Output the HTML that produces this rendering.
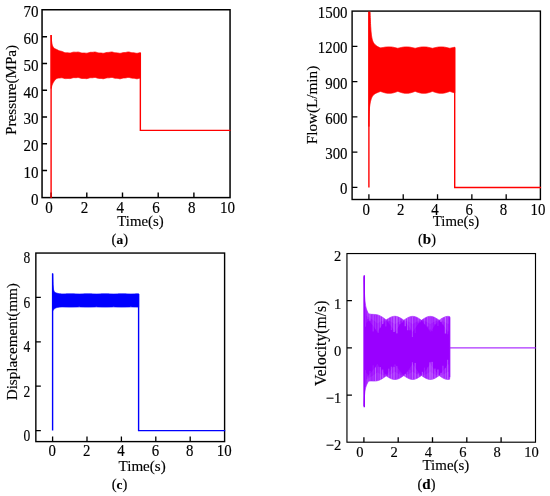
<!DOCTYPE html>
<html><head><meta charset="utf-8"><title>Figure</title>
<style>
html,body{margin:0;padding:0;background:#fff;}
svg{display:block;filter:blur(0.35px);}
text{font-family:"Liberation Serif", "Times New Roman", serif;font-size:15px;fill:#000;stroke:#000;stroke-width:0.15px;}
</style></head><body>
<svg width="550" height="496" viewBox="0 0 550 496">
<rect width="550" height="496" fill="#fff"/>
<rect x="42.05" y="9.75" width="188" height="187.85" fill="none" stroke="#000" stroke-width="1.5"/>
<path d="M51.1,197.6v-5M86.8,197.6v-5M122.5,197.6v-5M158.2,197.6v-5M193.9,197.6v-5M42.05,170.54h5M42.05,143.78h5M42.05,117.02h5M42.05,90.26h5M42.05,63.5h5M42.05,36.74h5" fill="none" stroke="#000" stroke-width="1.4"/>
<clipPath id="clipa"><rect x="42.05" y="10.5" width="188.75" height="187.85"/></clipPath>
<g clip-path="url(#clipa)">
<polygon fill="#ff0000" stroke="#ff0000" stroke-width="0.8" stroke-linejoin="round" points="51.1,35.12 51.19,36.61 51.28,37.9 51.37,39.02 51.46,39.99 51.55,40.84 51.64,41.58 51.72,42.22 51.81,42.8 51.9,43.3 51.99,43.75 52.08,44.15 52.17,44.51 52.26,44.84 52.35,45.14 52.44,45.41 52.53,45.65 52.62,45.88 52.71,46.09 52.8,46.28 52.89,46.46 52.97,46.63 53.06,46.79 53.15,46.94 53.24,47.08 53.33,47.21 53.42,47.34 53.51,47.46 53.6,47.57 53.69,47.67 53.78,47.77 53.87,47.87 53.96,47.96 54.05,48.04 54.13,48.12 54.22,48.2 54.31,48.27 54.4,48.34 54.49,48.41 54.58,48.47 54.67,48.53 54.76,48.59 54.85,48.64 54.94,48.69 55.03,48.74 55.12,48.79 55.21,48.83 55.29,48.88 55.38,48.92 55.47,48.96 55.56,49 55.65,49.04 55.74,49.08 55.83,49.12 55.92,49.16 56.01,49.2 56.1,49.23 56.19,49.27 56.28,49.31 56.37,49.35 56.45,49.39 56.54,49.43 56.63,49.47 56.72,49.51 56.81,49.55 56.9,49.6 56.99,49.64 57.08,49.68 57.17,49.73 57.26,49.77 57.35,49.82 57.44,49.87 57.53,49.91 57.62,49.96 57.7,50.01 57.79,50.05 57.88,50.1 57.97,50.15 58.06,50.2 58.15,50.24 58.24,50.29 58.33,50.34 58.42,50.38 58.51,50.43 58.6,50.47 58.69,50.51 58.78,50.55 58.86,50.59 58.95,50.63 59.04,50.67 59.13,50.71 59.22,50.74 59.31,50.78 59.4,50.81 59.49,50.84 59.58,50.87 59.67,50.9 59.76,50.92 59.85,50.95 59.94,50.97 60.03,51 60.11,51.02 60.2,51.04 60.29,51.06 60.38,51.08 60.47,51.1 60.56,51.12 60.65,51.14 60.74,51.16 60.83,51.17 60.92,51.19 61.01,51.21 61.1,51.23 61.19,51.25 61.27,51.27 61.36,51.29 61.45,51.31 61.54,51.34 61.63,51.36 61.72,51.38 61.81,51.41 62.05,51.48 62.29,51.57 62.52,51.66 62.76,51.76 63,51.87 63.24,51.98 63.48,52.1 63.71,52.21 63.95,52.32 64.19,52.42 64.43,52.51 64.67,52.59 64.9,52.66 65.14,52.72 65.38,52.76 65.62,52.79 65.86,52.81 66.09,52.82 66.33,52.83 66.57,52.83 66.81,52.83 67.05,52.82 67.28,52.82 67.52,52.83 67.76,52.84 68,52.85 68.24,52.87 68.47,52.9 68.71,52.92 68.95,52.95 69.19,52.97 69.43,52.98 69.66,52.99 69.9,52.99 70.14,52.98 70.38,52.96 70.62,52.93 70.85,52.88 71.09,52.82 71.33,52.76 71.57,52.68 71.81,52.61 72.04,52.53 72.28,52.45 72.52,52.38 72.76,52.32 73,52.27 73.23,52.22 73.47,52.19 73.71,52.17 73.95,52.16 74.19,52.16 74.42,52.16 74.66,52.18 74.9,52.19 75.14,52.2 75.38,52.22 75.61,52.22 75.85,52.23 76.09,52.23 76.33,52.22 76.57,52.21 76.8,52.19 77.04,52.17 77.28,52.15 77.52,52.14 77.76,52.12 77.99,52.12 78.23,52.13 78.47,52.14 78.71,52.17 78.95,52.21 79.18,52.26 79.42,52.33 79.66,52.4 79.9,52.48 80.14,52.56 80.37,52.64 80.61,52.72 80.85,52.8 81.09,52.87 81.33,52.92 81.56,52.97 81.8,53.01 82.04,53.04 82.28,53.05 82.52,53.06 82.75,53.06 82.99,53.05 83.23,53.05 83.47,53.04 83.71,53.04 83.94,53.04 84.18,53.04 84.42,53.05 84.66,53.07 84.9,53.09 85.13,53.11 85.37,53.14 85.61,53.16 85.85,53.19 86.09,53.2 86.32,53.21 86.56,53.21 86.8,53.2 87.04,53.17 87.28,53.14 87.51,53.09 87.75,53.03 87.99,52.96 88.23,52.88 88.47,52.8 88.7,52.72 88.94,52.64 89.18,52.57 89.42,52.5 89.66,52.44 89.89,52.4 90.13,52.36 90.37,52.33 90.61,52.32 90.85,52.31 91.08,52.3 91.32,52.31 91.56,52.31 91.8,52.31 92.04,52.31 92.27,52.31 92.51,52.3 92.75,52.28 92.99,52.26 93.23,52.23 93.46,52.2 93.7,52.17 93.94,52.14 94.18,52.11 94.42,52.09 94.65,52.08 94.89,52.08 95.13,52.09 95.37,52.11 95.61,52.14 95.84,52.19 96.08,52.25 96.32,52.32 96.56,52.39 96.8,52.47 97.03,52.55 97.27,52.63 97.51,52.7 97.75,52.76 97.99,52.82 98.22,52.87 98.46,52.91 98.7,52.93 98.94,52.95 99.18,52.96 99.41,52.97 99.65,52.97 99.89,52.97 100.13,52.97 100.37,52.98 100.6,52.99 100.84,53 101.08,53.03 101.32,53.05 101.56,53.09 101.79,53.12 102.03,53.16 102.27,53.19 102.51,53.23 102.75,53.25 102.98,53.27 103.22,53.27 103.46,53.27 103.7,53.25 103.94,53.22 104.17,53.17 104.41,53.12 104.65,53.05 104.89,52.98 105.13,52.9 105.36,52.83 105.6,52.75 105.84,52.68 106.08,52.62 106.32,52.56 106.55,52.51 106.79,52.48 107.03,52.45 107.27,52.43 107.51,52.42 107.74,52.41 107.98,52.41 108.22,52.4 108.46,52.4 108.7,52.39 108.93,52.37 109.17,52.35 109.41,52.32 109.65,52.29 109.89,52.25 110.12,52.21 110.36,52.17 110.6,52.13 110.84,52.09 111.08,52.06 111.31,52.04 111.55,52.03 111.79,52.03 112.03,52.05 112.27,52.08 112.5,52.12 112.74,52.17 112.98,52.23 113.22,52.3 113.46,52.38 113.69,52.45 113.93,52.52 114.17,52.59 114.41,52.65 114.65,52.71 114.88,52.75 115.12,52.79 115.36,52.81 115.6,52.83 115.84,52.85 116.07,52.85 116.31,52.86 116.55,52.87 116.79,52.88 117.03,52.89 117.26,52.91 117.5,52.94 117.74,52.97 117.98,53.01 118.22,53.05 118.45,53.1 118.69,53.15 118.93,53.2 119.17,53.24 119.41,53.27 119.64,53.3 119.88,53.31 120.12,53.31 120.36,53.3 120.6,53.27 120.83,53.24 121.07,53.19 121.31,53.13 121.55,53.06 121.79,52.99 122.02,52.92 122.26,52.85 122.5,52.79 122.74,52.73 122.98,52.67 123.21,52.63 123.45,52.6 123.69,52.57 123.93,52.55 124.17,52.54 124.4,52.53 124.64,52.52 124.88,52.51 125.12,52.5 125.36,52.48 125.59,52.46 125.83,52.43 126.07,52.39 126.31,52.34 126.55,52.29 126.78,52.24 127.02,52.19 127.26,52.14 127.5,52.09 127.74,52.05 127.97,52.02 128.21,52 128.45,52 128.69,52.01 128.93,52.03 129.16,52.07 129.4,52.11 129.64,52.17 129.88,52.23 130.12,52.3 130.35,52.36 130.59,52.43 130.83,52.49 131.07,52.55 131.31,52.59 131.54,52.63 131.78,52.67 132.02,52.69 132.26,52.71 132.5,52.72 132.73,52.73 132.97,52.74 133.21,52.75 133.45,52.77 133.69,52.79 133.92,52.82 134.16,52.85 134.4,52.9 134.64,52.95 134.88,53 135.11,53.06 135.35,53.12 135.59,53.17 135.83,53.22 136.07,53.27 136.3,53.3 136.54,53.32 136.78,53.33 137.02,53.33 137.26,53.31 137.49,53.28 137.73,53.23 137.97,53.18 138.21,53.12 138.45,53.06 138.68,53 138.92,52.94 139.16,52.88 139.4,52.83 139.64,52.78 139.87,52.75 140.11,52.72 140.35,52.69 140.35,78.12 140.11,78.14 139.87,78.17 139.64,78.2 139.4,78.25 139.16,78.3 138.92,78.36 138.68,78.42 138.45,78.48 138.21,78.55 137.97,78.6 137.73,78.66 137.49,78.7 137.26,78.73 137.02,78.75 136.78,78.75 136.54,78.74 136.3,78.72 136.07,78.69 135.83,78.64 135.59,78.59 135.35,78.54 135.11,78.48 134.88,78.42 134.64,78.37 134.4,78.32 134.16,78.28 133.92,78.24 133.69,78.21 133.45,78.19 133.21,78.18 132.97,78.16 132.73,78.15 132.5,78.14 132.26,78.13 132.02,78.11 131.78,78.09 131.54,78.06 131.31,78.02 131.07,77.97 130.83,77.91 130.59,77.85 130.35,77.79 130.12,77.72 129.88,77.65 129.64,77.59 129.4,77.53 129.16,77.49 128.93,77.45 128.69,77.43 128.45,77.42 128.21,77.43 127.97,77.44 127.74,77.47 127.5,77.51 127.26,77.56 127.02,77.61 126.78,77.66 126.55,77.72 126.31,77.77 126.07,77.81 125.83,77.85 125.59,77.88 125.36,77.9 125.12,77.92 124.88,77.93 124.64,77.94 124.4,77.95 124.17,77.96 123.93,77.98 123.69,77.99 123.45,78.02 123.21,78.05 122.98,78.1 122.74,78.15 122.5,78.21 122.26,78.27 122.02,78.34 121.79,78.41 121.55,78.48 121.31,78.55 121.07,78.61 120.83,78.66 120.6,78.7 120.36,78.72 120.12,78.73 119.88,78.73 119.64,78.72 119.41,78.69 119.17,78.66 118.93,78.62 118.69,78.57 118.45,78.52 118.22,78.48 117.98,78.43 117.74,78.39 117.5,78.36 117.26,78.33 117.03,78.31 116.79,78.3 116.55,78.29 116.31,78.28 116.07,78.28 115.84,78.27 115.6,78.25 115.36,78.24 115.12,78.21 114.88,78.17 114.65,78.13 114.41,78.07 114.17,78.01 113.93,77.94 113.69,77.87 113.46,77.8 113.22,77.72 112.98,77.66 112.74,77.59 112.5,77.54 112.27,77.5 112.03,77.47 111.79,77.45 111.55,77.45 111.31,77.46 111.08,77.48 110.84,77.51 110.6,77.55 110.36,77.59 110.12,77.63 109.89,77.67 109.65,77.71 109.41,77.75 109.17,77.77 108.93,77.79 108.7,77.81 108.46,77.82 108.22,77.83 107.98,77.83 107.74,77.83 107.51,77.84 107.27,77.85 107.03,77.87 106.79,77.9 106.55,77.94 106.32,77.98 106.08,78.04 105.84,78.1 105.6,78.17 105.36,78.25 105.13,78.33 104.89,78.4 104.65,78.47 104.41,78.54 104.17,78.59 103.94,78.64 103.7,78.67 103.46,78.69 103.22,78.7 102.98,78.69 102.75,78.67 102.51,78.65 102.27,78.62 102.03,78.58 101.79,78.54 101.56,78.51 101.32,78.48 101.08,78.45 100.84,78.43 100.6,78.41 100.37,78.4 100.13,78.39 99.89,78.39 99.65,78.39 99.41,78.39 99.18,78.38 98.94,78.37 98.7,78.36 98.46,78.33 98.22,78.29 97.99,78.24 97.75,78.19 97.51,78.12 97.27,78.05 97.03,77.97 96.8,77.89 96.56,77.81 96.32,77.74 96.08,77.67 95.84,77.61 95.61,77.57 95.37,77.53 95.13,77.51 94.89,77.5 94.65,77.5 94.42,77.51 94.18,77.53 93.94,77.56 93.7,77.59 93.46,77.62 93.23,77.65 92.99,77.68 92.75,77.7 92.51,77.72 92.27,77.73 92.04,77.73 91.8,77.73 91.56,77.73 91.32,77.73 91.08,77.73 90.85,77.73 90.61,77.74 90.37,77.76 90.13,77.78 89.89,77.82 89.66,77.87 89.42,77.93 89.18,77.99 88.94,78.07 88.7,78.15 88.47,78.23 88.23,78.31 87.99,78.38 87.75,78.45 87.51,78.51 87.28,78.56 87.04,78.6 86.8,78.62 86.56,78.64 86.32,78.64 86.09,78.63 85.85,78.61 85.61,78.59 85.37,78.57 85.13,78.54 84.9,78.51 84.66,78.49 84.42,78.48 84.18,78.47 83.94,78.46 83.71,78.47 83.47,78.47 83.23,78.48 82.99,78.48 82.75,78.49 82.52,78.49 82.28,78.48 82.04,78.47 81.8,78.44 81.56,78.4 81.33,78.36 81.09,78.3 80.85,78.23 80.61,78.16 80.37,78.08 80.14,78 79.9,77.91 79.66,77.84 79.42,77.77 79.18,77.7 78.95,77.65 78.71,77.61 78.47,77.59 78.23,77.57 77.99,77.57 77.76,77.57 77.52,77.58 77.28,77.6 77.04,77.62 76.8,77.64 76.57,77.66 76.33,77.67 76.09,77.68 75.85,77.69 75.61,77.69 75.38,77.68 75.14,77.67 74.9,77.66 74.66,77.65 74.42,77.64 74.19,77.63 73.95,77.64 73.71,77.65 73.47,77.68 73.23,77.71 73,77.76 72.76,77.82 72.52,77.88 72.28,77.96 72.04,78.04 71.81,78.12 71.57,78.2 71.33,78.28 71.09,78.35 70.85,78.42 70.62,78.47 70.38,78.51 70.14,78.54 69.9,78.56 69.66,78.57 69.43,78.57 69.19,78.56 68.95,78.55 68.71,78.53 68.47,78.52 68.24,78.5 68,78.5 67.76,78.49 67.52,78.5 67.28,78.51 67.05,78.52 66.81,78.54 66.57,78.56 66.33,78.58 66.09,78.59 65.86,78.6 65.62,78.6 65.38,78.59 65.14,78.57 64.9,78.54 64.67,78.5 64.43,78.44 64.19,78.38 63.95,78.31 63.71,78.24 63.48,78.16 63.24,78.08 63,78.01 62.76,77.95 62.52,77.89 62.29,77.85 62.05,77.82 61.81,77.8 61.72,77.79 61.63,77.79 61.54,77.79 61.45,77.79 61.36,77.79 61.27,77.79 61.19,77.8 61.1,77.8 61.01,77.81 60.92,77.82 60.83,77.83 60.74,77.84 60.65,77.85 60.56,77.86 60.47,77.87 60.38,77.88 60.29,77.89 60.2,77.9 60.11,77.92 60.03,77.93 59.94,77.94 59.85,77.95 59.76,77.96 59.67,77.97 59.58,77.98 59.49,77.99 59.4,78 59.31,78.01 59.22,78.02 59.13,78.03 59.04,78.03 58.95,78.04 58.86,78.05 58.78,78.06 58.69,78.07 58.6,78.07 58.51,78.08 58.42,78.09 58.33,78.1 58.24,78.11 58.15,78.12 58.06,78.13 57.97,78.15 57.88,78.16 57.79,78.18 57.7,78.2 57.62,78.22 57.53,78.24 57.44,78.26 57.35,78.29 57.26,78.32 57.17,78.35 57.08,78.38 56.99,78.42 56.9,78.46 56.81,78.5 56.72,78.55 56.63,78.6 56.54,78.65 56.45,78.7 56.37,78.76 56.28,78.82 56.19,78.89 56.1,78.95 56.01,79.02 55.92,79.1 55.83,79.18 55.74,79.26 55.65,79.34 55.56,79.42 55.47,79.51 55.38,79.6 55.29,79.7 55.21,79.79 55.12,79.89 55.03,80 54.94,80.1 54.85,80.21 54.76,80.32 54.67,80.43 54.58,80.54 54.49,80.66 54.4,80.77 54.31,80.89 54.22,81.02 54.13,81.14 54.05,81.27 53.96,81.4 53.87,81.53 53.78,81.67 53.69,81.81 53.6,81.95 53.51,82.09 53.42,82.24 53.33,82.4 53.24,82.55 53.15,82.71 53.06,82.88 52.97,83.05 52.89,83.23 52.8,83.41 52.71,83.6 52.62,83.79 52.53,83.99 52.44,84.2 52.35,84.42 52.26,84.64 52.17,84.88 52.08,85.12 51.99,85.37 51.9,85.63 51.81,85.9 51.72,86.18 51.64,86.48 51.55,86.78 51.46,87.1 51.37,87.43 51.28,87.77 51.19,88.13 51.1,88.5"/>
<path d="M51.1,198.3 L51.1,35.12" fill="none" stroke="#ff0000" stroke-width="1.4"/>
<path d="M140.35,52.8 L140.35,130.4 L230.6,130.4" fill="none" stroke="#ff0000" stroke-width="1.4"/>
</g>
<text transform="translate(48.9,212.9) scale(0.94,1)" text-anchor="middle" style="font-size:16px">0</text>
<text transform="translate(84.6,212.9) scale(0.94,1)" text-anchor="middle" style="font-size:16px">2</text>
<text transform="translate(120.3,212.9) scale(0.94,1)" text-anchor="middle" style="font-size:16px">4</text>
<text transform="translate(156,212.9) scale(0.94,1)" text-anchor="middle" style="font-size:16px">6</text>
<text transform="translate(191.7,212.9) scale(0.94,1)" text-anchor="middle" style="font-size:16px">8</text>
<text transform="translate(227.4,212.9) scale(0.94,1)" text-anchor="middle" style="font-size:16px">10</text>
<text transform="translate(38.6,204.55) scale(0.94,1)" text-anchor="end" style="font-size:16px">0</text>
<text transform="translate(38.6,177.79) scale(0.94,1)" text-anchor="end" style="font-size:16px">10</text>
<text transform="translate(38.6,151.03) scale(0.94,1)" text-anchor="end" style="font-size:16px">20</text>
<text transform="translate(38.6,124.27) scale(0.94,1)" text-anchor="end" style="font-size:16px">30</text>
<text transform="translate(38.6,97.51) scale(0.94,1)" text-anchor="end" style="font-size:16px">40</text>
<text transform="translate(38.6,70.75) scale(0.94,1)" text-anchor="end" style="font-size:16px">50</text>
<text transform="translate(38.6,43.99) scale(0.94,1)" text-anchor="end" style="font-size:16px">60</text>
<text transform="translate(38.6,17.23) scale(0.94,1)" text-anchor="end" style="font-size:16px">70</text>
<text transform="translate(140.5,226.4) scale(0.95,1)" text-anchor="middle" style="font-size:15.6px">Time(s)</text>
<text transform="translate(15.7,89.9) rotate(-90)" text-anchor="middle" style="font-size:15.15px">Pressure(MPa)</text>
<text x="119.8" y="243.5" text-anchor="middle" style="font-size:14.6px">(<tspan style="font-weight:bold;font-size:13.3px">a</tspan>)</text>
<rect x="352.1" y="11.1" width="188.3" height="188.4" fill="none" stroke="#000" stroke-width="1.4"/>
<path d="M368.9,199.5v-5.3M403.22,199.5v-5.3M437.54,199.5v-5.3M471.86,199.5v-5.3M506.18,199.5v-5.3M352.1,187.45h5.3M352.1,152.2h5.3M352.1,116.95h5.3M352.1,81.7h5.3M352.1,46.45h5.3" fill="none" stroke="#000" stroke-width="1.3"/>
<clipPath id="clipb"><rect x="352.1" y="11.8" width="189" height="188.4"/></clipPath>
<g clip-path="url(#clipb)">
<polygon fill="#ff0000" stroke="#ff0000" stroke-width="0.8" stroke-linejoin="round" points="368.9,-75.56 368.99,-64.08 369.07,-53.76 369.16,-44.5 369.24,-36.17 369.33,-28.69 369.41,-21.96 369.5,-15.9 369.59,-10.45 369.67,-5.54 369.76,-1.11 369.84,2.87 369.93,6.47 370.02,9.72 370.1,12.65 370.19,15.3 370.27,17.7 370.36,19.87 370.44,21.84 370.53,23.62 370.62,25.24 370.7,26.71 370.79,28.05 370.87,29.27 370.96,30.38 371.04,31.4 371.13,32.32 371.22,33.17 371.3,33.95 371.39,34.67 371.47,35.33 371.56,35.93 371.65,36.49 371.73,37.01 371.82,37.49 371.9,37.94 371.99,38.35 372.07,38.73 372.16,39.09 372.25,39.43 372.33,39.74 372.42,40.04 372.5,40.31 372.59,40.57 372.68,40.82 372.76,41.05 372.85,41.27 372.93,41.48 373.02,41.68 373.1,41.87 373.19,42.05 373.28,42.22 373.36,42.38 373.45,42.54 373.53,42.69 373.62,42.84 373.7,42.97 373.79,43.11 373.88,43.24 373.96,43.36 374.05,43.48 374.13,43.6 374.22,43.71 374.31,43.82 374.39,43.93 374.48,44.03 374.56,44.13 374.65,44.23 374.73,44.32 374.82,44.41 374.91,44.5 374.99,44.59 375.08,44.68 375.16,44.76 375.25,44.84 375.33,44.92 375.42,45 375.51,45.07 375.59,45.15 375.68,45.22 375.76,45.29 375.85,45.36 375.94,45.43 376.02,45.5 376.11,45.56 376.19,45.63 376.28,45.69 376.36,45.75 376.45,45.81 376.54,45.87 376.62,45.93 376.71,45.99 376.79,46.05 376.88,46.1 376.97,46.16 377.05,46.21 377.14,46.27 377.22,46.32 377.31,46.37 377.39,46.42 377.48,46.47 377.57,46.52 377.65,46.57 377.74,46.62 377.82,46.67 377.91,46.72 377.99,46.76 378.08,46.81 378.17,46.85 378.25,46.9 378.34,46.94 378.42,46.99 378.51,47.03 378.6,47.07 378.68,47.11 378.77,47.16 378.85,47.2 378.94,47.24 379.02,47.28 379.11,47.32 379.2,47.36 379.42,47.46 379.65,47.56 379.88,47.66 380.11,47.76 380.34,47.85 380.57,47.89 380.8,47.87 381.03,47.83 381.26,47.8 381.48,47.77 381.71,47.73 381.94,47.7 382.17,47.66 382.4,47.62 382.63,47.58 382.86,47.54 383.09,47.51 383.31,47.47 383.54,47.43 383.77,47.39 384,47.35 384.23,47.32 384.46,47.28 384.69,47.25 384.92,47.21 385.14,47.18 385.37,47.15 385.6,47.12 385.83,47.09 386.06,47.07 386.29,47.04 386.52,47.02 386.75,47 386.98,46.98 387.2,46.96 387.43,46.94 387.66,46.93 387.89,46.92 388.12,46.91 388.35,46.9 388.58,46.9 388.81,46.89 389.03,46.89 389.26,46.9 389.49,46.9 389.72,46.91 389.95,46.91 390.18,46.93 390.41,46.94 390.64,46.96 390.86,46.97 391.09,46.99 391.32,47.02 391.55,47.04 391.78,47.07 392.01,47.1 392.24,47.13 392.47,47.16 392.7,47.19 392.92,47.23 393.15,47.27 393.38,47.31 393.61,47.35 393.84,47.39 394.07,47.44 394.3,47.49 394.53,47.53 394.75,47.58 394.98,47.63 395.21,47.69 395.44,47.74 395.67,47.79 395.9,47.85 396.13,47.9 396.36,47.96 396.58,48.02 396.81,48.07 397.04,48.13 397.27,48.19 397.5,48.25 397.73,48.31 397.96,48.29 398.19,48.23 398.42,48.18 398.64,48.12 398.87,48.06 399.1,48 399.33,47.95 399.56,47.89 399.79,47.84 400.02,47.78 400.25,47.73 400.47,47.68 400.7,47.62 400.93,47.57 401.16,47.53 401.39,47.48 401.62,47.43 401.85,47.39 402.08,47.35 402.3,47.3 402.53,47.27 402.76,47.23 402.99,47.19 403.22,47.16 403.45,47.13 403.68,47.1 403.91,47.07 404.14,47.05 404.36,47.02 404.59,47 404.82,46.98 405.05,46.97 405.28,46.95 405.51,46.94 405.74,46.93 405.97,46.93 406.19,46.92 406.42,46.92 406.65,46.92 406.88,46.92 407.11,46.93 407.34,46.94 407.57,46.95 407.8,46.96 408.02,46.97 408.25,46.99 408.48,47.01 408.71,47.03 408.94,47.06 409.17,47.08 409.4,47.11 409.63,47.14 409.86,47.18 410.08,47.21 410.31,47.25 410.54,47.29 410.77,47.33 411,47.37 411.23,47.41 411.46,47.46 411.69,47.5 411.91,47.55 412.14,47.6 412.37,47.65 412.6,47.7 412.83,47.76 413.06,47.81 413.29,47.86 413.52,47.92 413.74,47.98 413.97,48.03 414.2,48.09 414.43,48.15 414.66,48.21 414.89,48.26 415.12,48.32 415.35,48.28 415.58,48.22 415.8,48.16 416.03,48.1 416.26,48.05 416.49,47.99 416.72,47.93 416.95,47.88 417.18,47.82 417.41,47.77 417.63,47.72 417.86,47.66 418.09,47.61 418.32,47.56 418.55,47.51 418.78,47.47 419.01,47.42 419.24,47.38 419.46,47.34 419.69,47.29 419.92,47.26 420.15,47.22 420.38,47.18 420.61,47.15 420.84,47.12 421.07,47.09 421.3,47.06 421.52,47.04 421.75,47.02 421.98,47 422.21,46.98 422.44,46.96 422.67,46.95 422.9,46.94 423.13,46.93 423.35,46.92 423.58,46.92 423.81,46.92 424.04,46.92 424.27,46.92 424.5,46.93 424.73,46.94 424.96,46.95 425.18,46.96 425.41,46.98 425.64,47 425.87,47.02 426.1,47.04 426.33,47.06 426.56,47.09 426.79,47.12 427.02,47.15 427.24,47.18 427.47,47.22 427.7,47.26 427.93,47.29 428.16,47.34 428.39,47.38 428.62,47.42 428.85,47.47 429.07,47.51 429.3,47.56 429.53,47.61 429.76,47.66 429.99,47.72 430.22,47.77 430.45,47.82 430.68,47.88 430.9,47.93 431.13,47.99 431.36,48.05 431.59,48.1 431.82,48.16 432.05,48.22 432.28,48.28 432.51,48.32 432.74,48.26 432.96,48.21 433.19,48.15 433.42,48.09 433.65,48.03 433.88,47.98 434.11,47.92 434.34,47.86 434.57,47.81 434.79,47.76 435.02,47.7 435.25,47.65 435.48,47.6 435.71,47.55 435.94,47.5 436.17,47.46 436.4,47.41 436.62,47.37 436.85,47.33 437.08,47.29 437.31,47.25 437.54,47.21 437.77,47.18 438,47.14 438.23,47.11 438.46,47.08 438.68,47.06 438.91,47.03 439.14,47.01 439.37,46.99 439.6,46.97 439.83,46.96 440.06,46.95 440.29,46.94 440.51,46.93 440.74,46.92 440.97,46.92 441.2,46.92 441.43,46.92 441.66,46.93 441.89,46.93 442.12,46.94 442.34,46.95 442.57,46.97 442.8,46.98 443.03,47 443.26,47.02 443.49,47.05 443.72,47.07 443.95,47.1 444.18,47.13 444.4,47.16 444.63,47.19 444.86,47.23 445.09,47.27 445.32,47.3 445.55,47.35 445.78,47.39 446.01,47.43 446.23,47.48 446.46,47.53 446.69,47.57 446.92,47.62 447.15,47.68 447.38,47.73 447.61,47.78 447.84,47.84 448.06,47.89 448.29,47.95 448.52,48 448.75,48.06 448.98,48.12 449.21,48.18 449.44,48.24 449.67,48.29 449.9,48.31 450.12,48.25 450.35,48.19 450.58,48.13 450.81,48.08 451.04,48.02 451.27,47.96 451.5,47.91 451.73,47.85 451.95,47.8 452.18,47.74 452.41,47.69 452.64,47.64 452.87,47.59 453.1,47.54 453.33,47.49 453.56,47.44 453.78,47.4 454.01,47.36 454.24,47.32 454.47,47.28 454.7,47.24 454.7,92.88 454.47,92.83 454.24,92.77 454.01,92.71 453.78,92.65 453.56,92.59 453.33,92.52 453.1,92.46 452.87,92.39 452.64,92.32 452.41,92.24 452.18,92.17 451.95,92.09 451.73,92.01 451.5,91.94 451.27,91.86 451.04,91.78 450.81,91.7 450.58,91.61 450.35,91.53 450.12,91.45 449.9,91.37 449.67,91.39 449.44,91.47 449.21,91.55 448.98,91.63 448.75,91.72 448.52,91.8 448.29,91.88 448.06,91.96 447.84,92.03 447.61,92.11 447.38,92.19 447.15,92.26 446.92,92.33 446.69,92.4 446.46,92.47 446.23,92.54 446.01,92.61 445.78,92.67 445.55,92.73 445.32,92.79 445.09,92.84 444.86,92.9 444.63,92.95 444.4,92.99 444.18,93.04 443.95,93.08 443.72,93.12 443.49,93.15 443.26,93.19 443.03,93.22 442.8,93.24 442.57,93.27 442.34,93.29 442.12,93.3 441.89,93.31 441.66,93.32 441.43,93.33 441.2,93.33 440.97,93.33 440.74,93.33 440.51,93.32 440.29,93.31 440.06,93.29 439.83,93.28 439.6,93.25 439.37,93.23 439.14,93.2 438.91,93.17 438.68,93.14 438.46,93.1 438.23,93.06 438,93.02 437.77,92.97 437.54,92.92 437.31,92.87 437.08,92.82 436.85,92.76 436.62,92.7 436.4,92.64 436.17,92.57 435.94,92.51 435.71,92.44 435.48,92.37 435.25,92.3 435.02,92.22 434.79,92.15 434.57,92.07 434.34,92 434.11,91.92 433.88,91.84 433.65,91.76 433.42,91.68 433.19,91.59 432.96,91.51 432.74,91.43 432.51,91.35 432.28,91.41 432.05,91.49 431.82,91.57 431.59,91.65 431.36,91.74 431.13,91.82 430.9,91.9 430.68,91.98 430.45,92.05 430.22,92.13 429.99,92.21 429.76,92.28 429.53,92.35 429.3,92.42 429.07,92.49 428.85,92.56 428.62,92.62 428.39,92.68 428.16,92.74 427.93,92.8 427.7,92.86 427.47,92.91 427.24,92.96 427.02,93.01 426.79,93.05 426.56,93.09 426.33,93.13 426.1,93.16 425.87,93.19 425.64,93.22 425.41,93.25 425.18,93.27 424.96,93.29 424.73,93.31 424.5,93.32 424.27,93.33 424.04,93.33 423.81,93.33 423.58,93.33 423.35,93.33 423.13,93.32 422.9,93.31 422.67,93.29 422.44,93.27 422.21,93.25 421.98,93.22 421.75,93.19 421.52,93.16 421.3,93.13 421.07,93.09 420.84,93.05 420.61,93.01 420.38,92.96 420.15,92.91 419.92,92.86 419.69,92.8 419.46,92.74 419.24,92.68 419.01,92.62 418.78,92.56 418.55,92.49 418.32,92.42 418.09,92.35 417.86,92.28 417.63,92.21 417.41,92.13 417.18,92.05 416.95,91.98 416.72,91.9 416.49,91.82 416.26,91.74 416.03,91.65 415.8,91.57 415.58,91.49 415.35,91.41 415.12,91.35 414.89,91.43 414.66,91.51 414.43,91.59 414.2,91.68 413.97,91.76 413.74,91.84 413.52,91.92 413.29,92 413.06,92.07 412.83,92.15 412.6,92.22 412.37,92.3 412.14,92.37 411.91,92.44 411.69,92.51 411.46,92.57 411.23,92.64 411,92.7 410.77,92.76 410.54,92.82 410.31,92.87 410.08,92.92 409.86,92.97 409.63,93.02 409.4,93.06 409.17,93.1 408.94,93.14 408.71,93.17 408.48,93.2 408.25,93.23 408.02,93.25 407.8,93.28 407.57,93.29 407.34,93.31 407.11,93.32 406.88,93.33 406.65,93.33 406.42,93.33 406.19,93.33 405.97,93.32 405.74,93.31 405.51,93.3 405.28,93.29 405.05,93.27 404.82,93.24 404.59,93.22 404.36,93.19 404.14,93.15 403.91,93.12 403.68,93.08 403.45,93.04 403.22,92.99 402.99,92.95 402.76,92.9 402.53,92.84 402.3,92.79 402.08,92.73 401.85,92.67 401.62,92.61 401.39,92.54 401.16,92.47 400.93,92.4 400.7,92.33 400.47,92.26 400.25,92.19 400.02,92.11 399.79,92.03 399.56,91.96 399.33,91.88 399.1,91.8 398.87,91.72 398.64,91.63 398.42,91.55 398.19,91.47 397.96,91.39 397.73,91.37 397.5,91.45 397.27,91.53 397.04,91.61 396.81,91.7 396.58,91.78 396.36,91.86 396.13,91.94 395.9,92.01 395.67,92.09 395.44,92.17 395.21,92.24 394.98,92.32 394.75,92.39 394.53,92.46 394.3,92.52 394.07,92.59 393.84,92.65 393.61,92.71 393.38,92.77 393.15,92.83 392.92,92.88 392.7,92.93 392.47,92.98 392.24,93.03 392.01,93.07 391.78,93.11 391.55,93.15 391.32,93.18 391.09,93.21 390.86,93.24 390.64,93.26 390.41,93.28 390.18,93.3 389.95,93.31 389.72,93.32 389.49,93.33 389.26,93.33 389.03,93.33 388.81,93.33 388.58,93.32 388.35,93.31 388.12,93.3 387.89,93.28 387.66,93.26 387.43,93.24 387.2,93.21 386.98,93.18 386.75,93.15 386.52,93.11 386.29,93.07 386.06,93.03 385.83,92.98 385.6,92.94 385.37,92.89 385.14,92.83 384.92,92.78 384.69,92.72 384.46,92.66 384.23,92.6 384,92.53 383.77,92.46 383.54,92.4 383.31,92.33 383.09,92.25 382.86,92.18 382.63,92.11 382.4,92.03 382.17,91.95 381.94,91.88 381.71,91.8 381.48,91.72 381.26,91.64 381.03,91.56 380.8,91.48 380.57,91.41 380.34,91.43 380.11,91.52 379.88,91.61 379.65,91.7 379.42,91.79 379.2,91.88 379.11,91.91 379.02,91.95 378.94,91.98 378.85,92.02 378.77,92.05 378.68,92.08 378.6,92.12 378.51,92.15 378.42,92.19 378.34,92.22 378.25,92.26 378.17,92.29 378.08,92.33 377.99,92.36 377.91,92.4 377.82,92.43 377.74,92.47 377.65,92.5 377.57,92.54 377.48,92.58 377.39,92.61 377.31,92.65 377.22,92.68 377.14,92.72 377.05,92.76 376.97,92.79 376.88,92.83 376.79,92.87 376.71,92.91 376.62,92.95 376.54,92.98 376.45,93.02 376.36,93.06 376.28,93.1 376.19,93.14 376.11,93.18 376.02,93.23 375.94,93.27 375.85,93.31 375.76,93.35 375.68,93.4 375.59,93.44 375.51,93.49 375.42,93.53 375.33,93.58 375.25,93.63 375.16,93.68 375.08,93.73 374.99,93.78 374.91,93.83 374.82,93.89 374.73,93.94 374.65,94 374.56,94.06 374.48,94.11 374.39,94.18 374.31,94.24 374.22,94.3 374.13,94.37 374.05,94.44 373.96,94.51 373.88,94.58 373.79,94.66 373.7,94.74 373.62,94.82 373.53,94.9 373.45,94.99 373.36,95.08 373.28,95.17 373.19,95.27 373.1,95.37 373.02,95.47 372.93,95.58 372.85,95.69 372.76,95.81 372.68,95.93 372.59,96.06 372.5,96.19 372.42,96.33 372.33,96.47 372.25,96.62 372.16,96.78 372.07,96.94 371.99,97.11 371.9,97.28 371.82,97.47 371.73,97.66 371.65,97.86 371.56,98.07 371.47,98.29 371.39,98.51 371.3,98.75 371.22,99 371.13,99.26 371.04,99.54 370.96,99.82 370.87,100.12 370.79,100.43 370.7,100.76 370.62,101.1 370.53,101.45 370.44,101.83 370.36,102.22 370.27,102.63 370.19,103.06 370.1,103.51 370.02,103.99 369.93,104.49 369.84,105.02 369.76,105.6 369.67,106.22 369.59,106.91 369.5,107.69 369.41,108.61 369.33,109.74 369.24,111.19 369.16,113.17 369.07,115.98 368.99,120.15 368.9,126.55"/>
<path d="M368.9,187.45 L368.9,-0.55" fill="none" stroke="#ff0000" stroke-width="1.4"/>
<path d="M454.7,47.62 L454.7,187.45 L541.5,187.45" fill="none" stroke="#ff0000" stroke-width="1.4"/>
</g>
<text transform="translate(366.3,214.85) scale(0.93,1)" text-anchor="middle" style="font-size:16px">0</text>
<text transform="translate(400.62,214.85) scale(0.93,1)" text-anchor="middle" style="font-size:16px">2</text>
<text transform="translate(434.94,214.85) scale(0.93,1)" text-anchor="middle" style="font-size:16px">4</text>
<text transform="translate(469.26,214.85) scale(0.93,1)" text-anchor="middle" style="font-size:16px">6</text>
<text transform="translate(503.58,214.85) scale(0.93,1)" text-anchor="middle" style="font-size:16px">8</text>
<text transform="translate(537.9,214.85) scale(0.93,1)" text-anchor="middle" style="font-size:16px">10</text>
<text transform="translate(347.5,194.31) scale(0.93,1)" text-anchor="end" style="font-size:16px">0</text>
<text transform="translate(347.5,159.06) scale(0.93,1)" text-anchor="end" style="font-size:16px">300</text>
<text transform="translate(347.5,123.81) scale(0.93,1)" text-anchor="end" style="font-size:16px">600</text>
<text transform="translate(347.5,88.56) scale(0.93,1)" text-anchor="end" style="font-size:16px">900</text>
<text transform="translate(347.5,53.31) scale(0.93,1)" text-anchor="end" style="font-size:16px">1200</text>
<text transform="translate(347.5,18.06) scale(0.93,1)" text-anchor="end" style="font-size:16px">1500</text>
<text transform="translate(456,226.4) scale(0.95,1)" text-anchor="middle" style="font-size:15.6px">Time(s)</text>
<text transform="translate(317.3,105) rotate(-90)" text-anchor="middle" style="font-size:15.2px">Flow(L/min)</text>
<text x="427" y="243.5" text-anchor="middle" style="font-size:14.3px">(<tspan style="font-weight:bold;font-size:15px">b</tspan>)</text>
<rect x="35.85" y="253.05" width="188.75" height="188.55" fill="none" stroke="#000" stroke-width="1.4"/>
<path d="M52.6,441.6v-5M87,441.6v-5M121.4,441.6v-5M155.8,441.6v-5M190.2,441.6v-5M35.85,430.6h5M35.85,386.2h5M35.85,341.8h5M35.85,297.4h5" fill="none" stroke="#000" stroke-width="1.3"/>
<clipPath id="clipc"><rect x="35.85" y="253.75" width="189.45" height="188.55"/></clipPath>
<g clip-path="url(#clipc)">
<polygon fill="#0000ff" stroke="#0000ff" stroke-width="0.8" stroke-linejoin="round" points="52.6,273.6 52.69,276.74 52.77,279.32 52.86,281.45 52.94,283.21 53.03,284.67 53.12,285.88 53.2,286.89 53.29,287.72 53.37,288.42 53.46,289.01 53.55,289.5 53.63,289.91 53.72,290.26 53.8,290.56 53.89,290.82 53.98,291.04 54.06,291.23 54.15,291.4 54.23,291.55 54.32,291.68 54.41,291.79 54.49,291.9 54.58,291.99 54.66,292.08 54.75,292.16 54.84,292.23 54.92,292.29 55.01,292.36 55.09,292.41 55.18,292.47 55.27,292.52 55.35,292.57 55.44,292.62 55.52,292.66 55.61,292.7 55.7,292.74 55.78,292.78 55.87,292.82 55.95,292.86 56.04,292.89 56.13,292.92 56.21,292.96 56.3,292.99 56.38,293.02 56.47,293.05 56.56,293.08 56.64,293.1 56.73,293.13 56.81,293.16 56.9,293.18 56.99,293.21 57.07,293.23 57.16,293.25 57.24,293.28 57.33,293.3 57.42,293.32 57.5,293.34 57.59,293.36 57.67,293.38 57.76,293.4 57.85,293.42 57.93,293.44 58.02,293.46 58.1,293.47 58.19,293.49 58.28,293.51 58.36,293.52 58.45,293.54 58.53,293.55 58.62,293.57 58.71,293.58 58.79,293.6 58.88,293.61 58.96,293.63 59.05,293.64 59.14,293.65 59.22,293.67 59.31,293.68 59.39,293.69 59.48,293.7 59.57,293.71 59.65,293.73 59.74,293.74 59.82,293.75 59.91,293.76 60,293.77 60.08,293.78 60.17,293.79 60.25,293.8 60.34,293.81 60.43,293.82 60.51,293.83 60.6,293.84 60.68,293.85 60.77,293.86 60.86,293.87 60.94,293.88 61.03,293.88 61.11,293.89 61.2,293.9 61.29,293.91 61.37,293.92 61.46,293.93 61.54,293.93 61.63,293.94 61.72,293.95 61.8,293.96 61.89,293.96 61.97,293.97 62.06,293.98 62.15,293.98 62.23,293.98 62.32,293.98 62.4,293.97 62.49,293.97 62.58,293.97 62.66,293.97 62.75,293.97 62.83,293.97 62.92,293.96 63.15,293.96 63.38,293.95 63.61,293.95 63.84,293.94 64.07,293.93 64.3,293.93 64.53,293.92 64.75,293.91 64.98,293.91 65.21,293.9 65.44,293.89 65.67,293.88 65.9,293.88 66.13,293.87 66.36,293.86 66.59,293.86 66.82,293.85 67.05,293.85 67.28,293.84 67.51,293.84 67.74,293.83 67.97,293.83 68.19,293.82 68.42,293.82 68.65,293.81 68.88,293.81 69.11,293.81 69.34,293.81 69.57,293.8 69.8,293.8 70.03,293.8 70.26,293.8 70.49,293.8 70.72,293.8 70.95,293.8 71.18,293.8 71.41,293.8 71.63,293.81 71.86,293.81 72.09,293.81 72.32,293.81 72.55,293.82 72.78,293.82 73.01,293.83 73.24,293.83 73.47,293.84 73.7,293.84 73.93,293.85 74.16,293.86 74.39,293.86 74.62,293.87 74.85,293.88 75.07,293.89 75.3,293.89 75.53,293.9 75.76,293.91 75.99,293.92 76.22,293.93 76.45,293.94 76.68,293.95 76.91,293.96 77.14,293.97 77.37,293.98 77.6,293.99 77.83,294 78.06,294.01 78.29,294.02 78.51,294.03 78.74,294.04 78.97,294.06 79.2,294.07 79.43,294.06 79.66,294.05 79.89,294.04 80.12,294.03 80.35,294.02 80.58,294.01 80.81,294 81.04,293.98 81.27,293.97 81.5,293.96 81.73,293.95 81.95,293.94 82.18,293.93 82.41,293.92 82.64,293.92 82.87,293.91 83.1,293.9 83.33,293.89 83.56,293.88 83.79,293.87 84.02,293.87 84.25,293.86 84.48,293.85 84.71,293.85 84.94,293.84 85.17,293.84 85.39,293.83 85.62,293.83 85.85,293.82 86.08,293.82 86.31,293.81 86.54,293.81 86.77,293.81 87,293.81 87.23,293.81 87.46,293.8 87.69,293.8 87.92,293.8 88.15,293.8 88.38,293.8 88.61,293.81 88.83,293.81 89.06,293.81 89.29,293.81 89.52,293.82 89.75,293.82 89.98,293.82 90.21,293.83 90.44,293.83 90.67,293.84 90.9,293.84 91.13,293.85 91.36,293.86 91.59,293.86 91.82,293.87 92.05,293.88 92.27,293.89 92.5,293.89 92.73,293.9 92.96,293.91 93.19,293.92 93.42,293.93 93.65,293.94 93.88,293.95 94.11,293.96 94.34,293.97 94.57,293.98 94.8,293.99 95.03,294 95.26,294.01 95.49,294.02 95.71,294.03 95.94,294.04 96.17,294.06 96.4,294.07 96.63,294.06 96.86,294.05 97.09,294.04 97.32,294.03 97.55,294.02 97.78,294.01 98.01,294 98.24,293.99 98.47,293.97 98.7,293.96 98.93,293.95 99.15,293.94 99.38,293.93 99.61,293.92 99.84,293.92 100.07,293.91 100.3,293.9 100.53,293.89 100.76,293.88 100.99,293.87 101.22,293.87 101.45,293.86 101.68,293.85 101.91,293.85 102.14,293.84 102.37,293.84 102.59,293.83 102.82,293.83 103.05,293.82 103.28,293.82 103.51,293.81 103.74,293.81 103.97,293.81 104.2,293.81 104.43,293.81 104.66,293.8 104.89,293.8 105.12,293.8 105.35,293.8 105.58,293.8 105.81,293.81 106.03,293.81 106.26,293.81 106.49,293.81 106.72,293.82 106.95,293.82 107.18,293.82 107.41,293.83 107.64,293.83 107.87,293.84 108.1,293.84 108.33,293.85 108.56,293.86 108.79,293.86 109.02,293.87 109.25,293.88 109.47,293.89 109.7,293.89 109.93,293.9 110.16,293.91 110.39,293.92 110.62,293.93 110.85,293.94 111.08,293.95 111.31,293.96 111.54,293.97 111.77,293.98 112,293.99 112.23,294 112.46,294.01 112.69,294.02 112.91,294.03 113.14,294.04 113.37,294.06 113.6,294.07 113.83,294.06 114.06,294.05 114.29,294.04 114.52,294.03 114.75,294.02 114.98,294.01 115.21,294 115.44,293.99 115.67,293.97 115.9,293.96 116.13,293.95 116.35,293.94 116.58,293.93 116.81,293.92 117.04,293.92 117.27,293.91 117.5,293.9 117.73,293.89 117.96,293.88 118.19,293.87 118.42,293.87 118.65,293.86 118.88,293.85 119.11,293.85 119.34,293.84 119.57,293.84 119.79,293.83 120.02,293.83 120.25,293.82 120.48,293.82 120.71,293.81 120.94,293.81 121.17,293.81 121.4,293.81 121.63,293.81 121.86,293.8 122.09,293.8 122.32,293.8 122.55,293.8 122.78,293.8 123.01,293.81 123.23,293.81 123.46,293.81 123.69,293.81 123.92,293.82 124.15,293.82 124.38,293.82 124.61,293.83 124.84,293.83 125.07,293.84 125.3,293.84 125.53,293.85 125.76,293.86 125.99,293.86 126.22,293.87 126.45,293.88 126.67,293.89 126.9,293.89 127.13,293.9 127.36,293.91 127.59,293.92 127.82,293.93 128.05,293.94 128.28,293.95 128.51,293.96 128.74,293.97 128.97,293.98 129.2,293.99 129.43,294 129.66,294.01 129.89,294.02 130.11,294.03 130.34,294.04 130.57,294.06 130.8,294.07 131.03,294.06 131.26,294.05 131.49,294.04 131.72,294.03 131.95,294.02 132.18,294.01 132.41,294 132.64,293.99 132.87,293.97 133.1,293.96 133.33,293.95 133.55,293.94 133.78,293.93 134.01,293.92 134.24,293.92 134.47,293.91 134.7,293.9 134.93,293.89 135.16,293.88 135.39,293.87 135.62,293.87 135.85,293.86 136.08,293.85 136.31,293.85 136.54,293.84 136.77,293.84 136.99,293.83 137.22,293.83 137.45,293.82 137.68,293.82 137.91,293.81 138.14,293.81 138.37,293.81 138.6,293.81 138.6,307.1 138.37,307.1 138.14,307.09 137.91,307.09 137.68,307.09 137.45,307.08 137.22,307.08 136.99,307.07 136.77,307.07 136.54,307.06 136.31,307.06 136.08,307.05 135.85,307.05 135.62,307.04 135.39,307.03 135.16,307.02 134.93,307.02 134.7,307.01 134.47,307 134.24,306.99 134.01,306.98 133.78,306.97 133.55,306.96 133.33,306.95 133.1,306.94 132.87,306.93 132.64,306.92 132.41,306.91 132.18,306.9 131.95,306.89 131.72,306.88 131.49,306.87 131.26,306.85 131.03,306.84 130.8,306.84 130.57,306.85 130.34,306.86 130.11,306.87 129.89,306.88 129.66,306.89 129.43,306.9 129.2,306.91 128.97,306.93 128.74,306.94 128.51,306.95 128.28,306.96 128.05,306.97 127.82,306.98 127.59,306.98 127.36,306.99 127.13,307 126.9,307.01 126.67,307.02 126.45,307.03 126.22,307.03 125.99,307.04 125.76,307.05 125.53,307.06 125.3,307.06 125.07,307.07 124.84,307.07 124.61,307.08 124.38,307.08 124.15,307.09 123.92,307.09 123.69,307.09 123.46,307.09 123.23,307.1 123.01,307.1 122.78,307.1 122.55,307.1 122.32,307.1 122.09,307.1 121.86,307.1 121.63,307.1 121.4,307.1 121.17,307.1 120.94,307.09 120.71,307.09 120.48,307.09 120.25,307.08 120.02,307.08 119.79,307.07 119.57,307.07 119.34,307.06 119.11,307.06 118.88,307.05 118.65,307.05 118.42,307.04 118.19,307.03 117.96,307.02 117.73,307.02 117.5,307.01 117.27,307 117.04,306.99 116.81,306.98 116.58,306.97 116.35,306.96 116.13,306.95 115.9,306.94 115.67,306.93 115.44,306.92 115.21,306.91 114.98,306.9 114.75,306.89 114.52,306.88 114.29,306.87 114.06,306.85 113.83,306.84 113.6,306.84 113.37,306.85 113.14,306.86 112.91,306.87 112.69,306.88 112.46,306.89 112.23,306.9 112,306.91 111.77,306.93 111.54,306.94 111.31,306.95 111.08,306.96 110.85,306.97 110.62,306.98 110.39,306.98 110.16,306.99 109.93,307 109.7,307.01 109.47,307.02 109.25,307.03 109.02,307.03 108.79,307.04 108.56,307.05 108.33,307.06 108.1,307.06 107.87,307.07 107.64,307.07 107.41,307.08 107.18,307.08 106.95,307.09 106.72,307.09 106.49,307.09 106.26,307.09 106.03,307.1 105.81,307.1 105.58,307.1 105.35,307.1 105.12,307.1 104.89,307.1 104.66,307.1 104.43,307.1 104.2,307.1 103.97,307.1 103.74,307.09 103.51,307.09 103.28,307.09 103.05,307.08 102.82,307.08 102.59,307.07 102.37,307.07 102.14,307.06 101.91,307.06 101.68,307.05 101.45,307.05 101.22,307.04 100.99,307.03 100.76,307.02 100.53,307.02 100.3,307.01 100.07,307 99.84,306.99 99.61,306.98 99.38,306.97 99.15,306.96 98.93,306.95 98.7,306.94 98.47,306.93 98.24,306.92 98.01,306.91 97.78,306.9 97.55,306.89 97.32,306.88 97.09,306.87 96.86,306.85 96.63,306.84 96.4,306.84 96.17,306.85 95.94,306.86 95.71,306.87 95.49,306.88 95.26,306.89 95.03,306.9 94.8,306.91 94.57,306.93 94.34,306.94 94.11,306.95 93.88,306.96 93.65,306.97 93.42,306.98 93.19,306.98 92.96,306.99 92.73,307 92.5,307.01 92.27,307.02 92.05,307.03 91.82,307.03 91.59,307.04 91.36,307.05 91.13,307.06 90.9,307.06 90.67,307.07 90.44,307.07 90.21,307.08 89.98,307.08 89.75,307.09 89.52,307.09 89.29,307.09 89.06,307.09 88.83,307.1 88.61,307.1 88.38,307.1 88.15,307.1 87.92,307.1 87.69,307.1 87.46,307.1 87.23,307.1 87,307.1 86.77,307.1 86.54,307.09 86.31,307.09 86.08,307.09 85.85,307.08 85.62,307.08 85.39,307.07 85.17,307.07 84.94,307.06 84.71,307.06 84.48,307.05 84.25,307.05 84.02,307.04 83.79,307.03 83.56,307.02 83.33,307.02 83.1,307.01 82.87,307 82.64,306.99 82.41,306.98 82.18,306.97 81.95,306.96 81.73,306.95 81.5,306.94 81.27,306.93 81.04,306.92 80.81,306.91 80.58,306.9 80.35,306.89 80.12,306.88 79.89,306.87 79.66,306.85 79.43,306.84 79.2,306.84 78.97,306.85 78.74,306.86 78.51,306.87 78.29,306.88 78.06,306.89 77.83,306.9 77.6,306.91 77.37,306.93 77.14,306.94 76.91,306.95 76.68,306.96 76.45,306.97 76.22,306.98 75.99,306.98 75.76,306.99 75.53,307 75.3,307.01 75.07,307.02 74.85,307.03 74.62,307.03 74.39,307.04 74.16,307.05 73.93,307.06 73.7,307.06 73.47,307.07 73.24,307.07 73.01,307.08 72.78,307.08 72.55,307.09 72.32,307.09 72.09,307.09 71.86,307.1 71.63,307.1 71.41,307.1 71.18,307.1 70.95,307.1 70.72,307.1 70.49,307.1 70.26,307.1 70.03,307.1 69.8,307.1 69.57,307.1 69.34,307.09 69.11,307.09 68.88,307.09 68.65,307.09 68.42,307.08 68.19,307.08 67.97,307.07 67.74,307.07 67.51,307.06 67.28,307.06 67.05,307.05 66.82,307.04 66.59,307.04 66.36,307.03 66.13,307.02 65.9,307.01 65.67,307.01 65.44,307 65.21,306.99 64.98,306.98 64.75,306.97 64.53,306.96 64.3,306.95 64.07,306.95 63.84,306.94 63.61,306.93 63.38,306.92 63.15,306.91 62.92,306.9 62.83,306.9 62.75,306.9 62.66,306.89 62.58,306.89 62.49,306.89 62.4,306.89 62.32,306.88 62.23,306.88 62.15,306.88 62.06,306.88 61.97,306.88 61.89,306.89 61.8,306.89 61.72,306.9 61.63,306.91 61.54,306.91 61.46,306.92 61.37,306.93 61.29,306.93 61.2,306.94 61.11,306.95 61.03,306.95 60.94,306.96 60.86,306.97 60.77,306.97 60.68,306.98 60.6,306.99 60.51,307 60.43,307 60.34,307.01 60.25,307.02 60.17,307.03 60.08,307.04 60,307.04 59.91,307.05 59.82,307.06 59.74,307.07 59.65,307.08 59.57,307.09 59.48,307.1 59.39,307.11 59.31,307.12 59.22,307.13 59.14,307.14 59.05,307.15 58.96,307.16 58.88,307.17 58.79,307.18 58.71,307.2 58.62,307.21 58.53,307.22 58.45,307.23 58.36,307.25 58.28,307.26 58.19,307.27 58.1,307.29 58.02,307.3 57.93,307.32 57.85,307.34 57.76,307.35 57.67,307.37 57.59,307.39 57.5,307.4 57.42,307.42 57.33,307.44 57.24,307.46 57.16,307.48 57.07,307.5 56.99,307.53 56.9,307.55 56.81,307.57 56.73,307.6 56.64,307.62 56.56,307.65 56.47,307.67 56.38,307.7 56.3,307.73 56.21,307.76 56.13,307.79 56.04,307.83 55.95,307.86 55.87,307.9 55.78,307.93 55.7,307.97 55.61,308.01 55.52,308.05 55.44,308.09 55.35,308.14 55.27,308.19 55.18,308.23 55.09,308.28 55.01,308.34 54.92,308.39 54.84,308.45 54.75,308.5 54.66,308.57 54.58,308.63 54.49,308.69 54.41,308.76 54.32,308.83 54.23,308.91 54.15,308.99 54.06,309.07 53.98,309.15 53.89,309.24 53.8,309.33 53.72,309.43 53.63,309.52 53.55,309.63 53.46,309.74 53.37,309.85 53.29,309.96 53.2,310.09 53.12,310.21 53.03,310.35 52.94,310.48 52.86,310.63 52.77,310.78 52.69,310.93 52.6,311.09"/>
<path d="M52.6,430.6 L52.6,273.6" fill="none" stroke="#0000ff" stroke-width="1.4"/>
<path d="M138.6,294.07 L138.6,430.6 L225.6,430.6" fill="none" stroke="#0000ff" stroke-width="1.4"/>
</g>
<text transform="translate(52.2,456.3) scale(0.9,1)" text-anchor="middle" style="font-size:16.5px">0</text>
<text transform="translate(86.6,456.3) scale(0.9,1)" text-anchor="middle" style="font-size:16.5px">2</text>
<text transform="translate(121,456.3) scale(0.9,1)" text-anchor="middle" style="font-size:16.5px">4</text>
<text transform="translate(155.4,456.3) scale(0.9,1)" text-anchor="middle" style="font-size:16.5px">6</text>
<text transform="translate(189.8,456.3) scale(0.9,1)" text-anchor="middle" style="font-size:16.5px">8</text>
<text transform="translate(224.2,456.3) scale(0.9,1)" text-anchor="middle" style="font-size:16.5px">10</text>
<text transform="translate(30.3,441.05) scale(0.82,1)" text-anchor="end" style="font-size:16.5px">0</text>
<text transform="translate(30.3,396.65) scale(0.82,1)" text-anchor="end" style="font-size:16.5px">2</text>
<text transform="translate(30.3,352.25) scale(0.82,1)" text-anchor="end" style="font-size:16.5px">4</text>
<text transform="translate(30.3,307.85) scale(0.82,1)" text-anchor="end" style="font-size:16.5px">6</text>
<text transform="translate(30.3,263.45) scale(0.82,1)" text-anchor="end" style="font-size:16.5px">8</text>
<text transform="translate(142.1,471) scale(0.967,1)" text-anchor="middle" style="font-size:15.6px">Time(s)</text>
<text transform="translate(17.2,341.7) rotate(-90)" text-anchor="middle" style="font-size:15.2px">Displacement(mm)</text>
<text x="119.5" y="489.4" text-anchor="middle" style="font-size:14.6px">(<tspan style="font-weight:bold;font-size:13.3px">c</tspan>)</text>
<rect x="346.95" y="253.55" width="188.55" height="188.65" fill="none" stroke="#000" stroke-width="1.15"/>
<path d="M363.9,442.2v-5M398.2,442.2v-5M432.5,442.2v-5M466.8,442.2v-5M501.1,442.2v-5M346.95,395.1h5M346.95,347.9h5M346.95,300.7h5" fill="none" stroke="#000" stroke-width="1.3"/>
<clipPath id="clipd"><rect x="346.95" y="254.12" width="189.12" height="188.65"/></clipPath>
<g clip-path="url(#clipd)">
<polygon fill="#9900ff" stroke="#9900ff" stroke-width="0.6" stroke-linejoin="round" points="363.9,276.35 363.99,279.76 364.07,282.79 364.16,285.49 364.24,287.89 364.33,290.04 364.41,291.97 364.5,293.69 364.59,295.23 364.67,296.62 364.76,297.87 364.84,299 364.93,300.01 365.01,300.94 365.1,301.77 365.19,302.54 365.27,303.23 365.36,303.87 365.44,304.46 365.53,305 365.61,305.49 365.7,305.96 365.79,306.39 365.87,306.79 365.96,307.16 366.04,307.52 366.13,307.85 366.22,308.16 366.3,308.46 366.39,308.75 366.47,309.02 366.56,309.28 366.64,309.53 366.73,309.77 366.82,310.01 366.9,310.23 366.99,310.45 367.07,310.66 367.16,310.87 367.24,311.07 367.33,311.27 367.42,311.46 367.5,311.65 367.59,311.83 367.67,312.01 367.76,312.19 367.84,312.37 367.93,312.54 368.02,312.71 368.1,312.88 368.19,313.04 368.27,313.21 368.36,313.37 368.44,313.53 368.53,313.64 368.62,313.68 368.7,313.71 368.79,313.75 368.87,313.78 368.96,313.81 369.04,313.84 369.13,313.87 369.22,313.89 369.3,313.92 369.39,313.95 369.47,313.97 369.56,313.99 369.65,314.01 369.73,314.03 369.82,314.05 369.9,314.07 369.99,314.09 370.07,314.1 370.16,314.12 370.25,314.13 370.33,314.15 370.42,314.16 370.5,314.17 370.59,314.19 370.67,314.2 370.76,314.21 370.85,314.22 370.93,314.23 371.02,314.24 371.1,314.24 371.19,314.25 371.27,314.26 371.36,314.27 371.45,314.27 371.53,314.28 371.62,314.29 371.7,314.29 371.79,314.3 371.87,314.3 371.96,314.31 372.05,314.31 372.13,314.32 372.22,314.32 372.3,314.32 372.39,314.33 372.47,314.33 372.56,314.33 372.65,314.34 372.73,314.34 372.82,314.35 372.9,314.35 372.99,314.35 373.08,314.36 373.16,314.36 373.25,314.36 373.33,314.37 373.42,314.37 373.5,314.37 373.59,314.38 373.68,314.38 373.76,314.38 373.85,314.39 373.93,314.39 374.02,314.4 374.1,314.4 374.19,314.41 374.42,314.42 374.65,314.44 374.88,314.46 375.1,314.48 375.33,314.5 375.56,314.53 375.79,314.56 376.02,314.59 376.25,314.63 376.48,314.67 376.71,314.72 376.93,314.77 377.16,314.82 377.39,314.87 377.62,314.94 377.85,315 378.08,315.07 378.31,315.14 378.53,315.22 378.76,315.31 378.99,315.39 379.22,315.48 379.45,315.58 379.68,315.68 379.91,315.79 380.14,315.9 380.36,316.01 380.59,316.13 380.82,316.25 381.05,316.37 381.28,316.5 381.51,316.64 381.74,316.77 381.96,316.91 382.19,317.06 382.42,317.21 382.65,317.36 382.88,317.51 383.11,317.66 383.34,317.82 383.57,317.98 383.79,318.14 384.02,318.31 384.25,318.47 384.48,318.64 384.71,318.81 384.94,318.98 385.17,319.15 385.39,319.32 385.62,319.49 385.85,319.66 386.08,319.83 386.31,319.8 386.54,319.66 386.77,319.51 387,319.37 387.22,319.22 387.45,319.08 387.68,318.94 387.91,318.8 388.14,318.66 388.37,318.52 388.6,318.39 388.82,318.25 389.05,318.12 389.28,317.99 389.51,317.87 389.74,317.75 389.97,317.63 390.2,317.52 390.43,317.41 390.65,317.3 390.88,317.2 391.11,317.1 391.34,317.01 391.57,316.93 391.8,316.84 392.03,316.77 392.25,316.69 392.48,316.63 392.71,316.57 392.94,316.51 393.17,316.46 393.4,316.42 393.63,316.38 393.86,316.35 394.08,316.33 394.31,316.31 394.54,316.3 394.77,316.29 395,316.29 395.23,316.3 395.46,316.31 395.68,316.33 395.91,316.35 396.14,316.39 396.37,316.42 396.6,316.47 396.83,316.52 397.06,316.57 397.29,316.63 397.51,316.7 397.74,316.77 397.97,316.85 398.2,316.94 398.43,317.03 398.66,317.12 398.89,317.22 399.11,317.32 399.34,317.43 399.57,317.55 399.8,317.67 400.03,317.79 400.26,317.91 400.49,318.04 400.72,318.18 400.94,318.31 401.17,318.45 401.4,318.6 401.63,318.74 401.86,318.89 402.09,319.04 402.32,319.19 402.54,319.34 402.77,319.5 403,319.66 403.23,319.81 403.46,319.97 403.69,320.13 403.92,320.16 404.15,320 404.37,319.85 404.6,319.69 404.83,319.54 405.06,319.38 405.29,319.23 405.52,319.08 405.75,318.93 405.97,318.78 406.2,318.64 406.43,318.5 406.66,318.36 406.89,318.22 407.12,318.09 407.35,317.96 407.58,317.84 407.8,317.72 408.03,317.6 408.26,317.49 408.49,317.38 408.72,317.27 408.95,317.18 409.18,317.08 409.4,316.99 409.63,316.91 409.86,316.83 410.09,316.76 410.32,316.69 410.55,316.63 410.78,316.58 411.01,316.53 411.23,316.49 411.46,316.45 411.69,316.42 411.92,316.4 412.15,316.38 412.38,316.37 412.61,316.37 412.83,316.37 413.06,316.38 413.29,316.39 413.52,316.41 413.75,316.44 413.98,316.47 414.21,316.51 414.44,316.56 414.66,316.61 414.89,316.67 415.12,316.73 415.35,316.8 415.58,316.88 415.81,316.96 416.04,317.05 416.26,317.14 416.49,317.23 416.72,317.34 416.95,317.44 417.18,317.55 417.41,317.67 417.64,317.79 417.87,317.91 418.09,318.04 418.32,318.17 418.55,318.31 418.78,318.45 419.01,318.59 419.24,318.73 419.47,318.88 419.69,319.02 419.92,319.18 420.15,319.33 420.38,319.48 420.61,319.64 420.84,319.79 421.07,319.95 421.3,320.11 421.52,320.22 421.75,320.06 421.98,319.9 422.21,319.75 422.44,319.59 422.67,319.44 422.9,319.28 423.12,319.13 423.35,318.98 423.58,318.83 423.81,318.69 424.04,318.54 424.27,318.4 424.5,318.27 424.73,318.13 424.95,318 425.18,317.88 425.41,317.75 425.64,317.64 425.87,317.52 426.1,317.41 426.33,317.31 426.55,317.21 426.78,317.11 427.01,317.02 427.24,316.94 427.47,316.86 427.7,316.78 427.93,316.72 428.16,316.65 428.38,316.6 428.61,316.55 428.84,316.5 429.07,316.47 429.3,316.43 429.53,316.41 429.76,316.39 429.98,316.38 430.21,316.37 430.44,316.37 430.67,316.38 430.9,316.39 431.13,316.41 431.36,316.44 431.59,316.47 431.81,316.51 432.04,316.55 432.27,316.6 432.5,316.66 432.73,316.72 432.96,316.79 433.19,316.86 433.41,316.94 433.64,317.03 433.87,317.12 434.1,317.21 434.33,317.31 434.56,317.42 434.79,317.53 435.02,317.64 435.24,317.76 435.47,317.88 435.7,318.01 435.93,318.14 436.16,318.27 436.39,318.41 436.62,318.55 436.84,318.7 437.07,318.84 437.3,318.99 437.53,319.14 437.76,319.29 437.99,319.44 438.22,319.6 438.45,319.75 438.67,319.91 438.9,320.07 439.13,320.23 439.36,320.1 439.59,319.94 439.82,319.79 440.05,319.63 440.27,319.47 440.5,319.32 440.73,319.17 440.96,319.02 441.19,318.87 441.42,318.72 441.65,318.58 441.88,318.44 442.1,318.3 442.33,318.17 442.56,318.04 442.79,317.91 443.02,317.79 443.25,317.67 443.48,317.55 443.7,317.44 443.93,317.33 444.16,317.23 444.39,317.14 444.62,317.04 444.85,316.96 445.08,316.88 445.31,316.8 445.53,316.73 445.76,316.67 445.99,316.61 446.22,316.56 446.45,316.51 446.68,316.47 446.91,316.44 447.13,316.41 447.36,316.39 447.59,316.38 447.82,316.37 448.05,316.37 448.28,316.38 448.51,316.39 448.74,316.4 448.96,316.43 449.19,316.46 449.42,316.5 449.65,316.54 449.65,379.26 449.42,379.3 449.19,379.34 448.96,379.37 448.74,379.4 448.51,379.41 448.28,379.42 448.05,379.43 447.82,379.43 447.59,379.42 447.36,379.41 447.13,379.39 446.91,379.36 446.68,379.33 446.45,379.29 446.22,379.24 445.99,379.19 445.76,379.13 445.53,379.07 445.31,379 445.08,378.92 444.85,378.84 444.62,378.76 444.39,378.66 444.16,378.57 443.93,378.47 443.7,378.36 443.48,378.25 443.25,378.13 443.02,378.01 442.79,377.89 442.56,377.76 442.33,377.63 442.1,377.5 441.88,377.36 441.65,377.22 441.42,377.08 441.19,376.93 440.96,376.78 440.73,376.63 440.5,376.48 440.27,376.33 440.05,376.17 439.82,376.01 439.59,375.86 439.36,375.7 439.13,375.57 438.9,375.73 438.67,375.89 438.45,376.05 438.22,376.2 437.99,376.36 437.76,376.51 437.53,376.66 437.3,376.81 437.07,376.96 436.84,377.1 436.62,377.25 436.39,377.39 436.16,377.53 435.93,377.66 435.7,377.79 435.47,377.92 435.24,378.04 435.02,378.16 434.79,378.27 434.56,378.38 434.33,378.49 434.1,378.59 433.87,378.68 433.64,378.77 433.41,378.86 433.19,378.94 432.96,379.01 432.73,379.08 432.5,379.14 432.27,379.2 432.04,379.25 431.81,379.29 431.59,379.33 431.36,379.36 431.13,379.39 430.9,379.41 430.67,379.42 430.44,379.43 430.21,379.43 429.98,379.42 429.76,379.41 429.53,379.39 429.3,379.37 429.07,379.33 428.84,379.3 428.61,379.25 428.38,379.2 428.16,379.15 427.93,379.08 427.7,379.02 427.47,378.94 427.24,378.86 427.01,378.78 426.78,378.69 426.55,378.59 426.33,378.49 426.1,378.39 425.87,378.28 425.64,378.16 425.41,378.05 425.18,377.92 424.95,377.8 424.73,377.67 424.5,377.53 424.27,377.4 424.04,377.26 423.81,377.11 423.58,376.97 423.35,376.82 423.12,376.67 422.9,376.52 422.67,376.36 422.44,376.21 422.21,376.05 421.98,375.9 421.75,375.74 421.52,375.58 421.3,375.69 421.07,375.85 420.84,376.01 420.61,376.16 420.38,376.32 420.15,376.47 419.92,376.62 419.69,376.78 419.47,376.92 419.24,377.07 419.01,377.21 418.78,377.35 418.55,377.49 418.32,377.63 418.09,377.76 417.87,377.89 417.64,378.01 417.41,378.13 417.18,378.25 416.95,378.36 416.72,378.46 416.49,378.57 416.26,378.66 416.04,378.75 415.81,378.84 415.58,378.92 415.35,379 415.12,379.07 414.89,379.13 414.66,379.19 414.44,379.24 414.21,379.29 413.98,379.33 413.75,379.36 413.52,379.39 413.29,379.41 413.06,379.42 412.83,379.43 412.61,379.43 412.38,379.43 412.15,379.42 411.92,379.4 411.69,379.38 411.46,379.35 411.23,379.31 411.01,379.27 410.78,379.22 410.55,379.17 410.32,379.11 410.09,379.04 409.86,378.97 409.63,378.89 409.4,378.81 409.18,378.72 408.95,378.62 408.72,378.53 408.49,378.42 408.26,378.31 408.03,378.2 407.8,378.08 407.58,377.96 407.35,377.84 407.12,377.71 406.89,377.58 406.66,377.44 406.43,377.3 406.2,377.16 405.97,377.01 405.75,376.87 405.52,376.72 405.29,376.57 405.06,376.42 404.83,376.26 404.6,376.11 404.37,375.95 404.15,375.79 403.92,375.64 403.69,375.67 403.46,375.83 403.23,375.99 403,376.14 402.77,376.3 402.54,376.45 402.32,376.61 402.09,376.76 401.86,376.91 401.63,377.06 401.4,377.2 401.17,377.34 400.94,377.48 400.72,377.62 400.49,377.75 400.26,377.88 400.03,378.01 399.8,378.13 399.57,378.25 399.34,378.36 399.11,378.47 398.89,378.57 398.66,378.67 398.43,378.77 398.2,378.86 397.97,378.94 397.74,379.02 397.51,379.09 397.29,379.16 397.06,379.22 396.83,379.28 396.6,379.33 396.37,379.37 396.14,379.41 395.91,379.44 395.68,379.46 395.46,379.48 395.23,379.49 395,379.5 394.77,379.5 394.54,379.49 394.31,379.48 394.08,379.46 393.86,379.43 393.63,379.4 393.4,379.37 393.17,379.32 392.94,379.27 392.71,379.22 392.48,379.16 392.25,379.09 392.03,379.02 391.8,378.94 391.57,378.86 391.34,378.77 391.11,378.68 390.88,378.58 390.65,378.48 390.43,378.37 390.2,378.26 389.97,378.14 389.74,378.03 389.51,377.9 389.28,377.78 389.05,377.65 388.82,377.52 388.6,377.38 388.37,377.25 388.14,377.11 387.91,376.97 387.68,376.83 387.45,376.68 387.22,376.54 387,376.39 386.77,376.25 386.54,376.1 386.31,375.95 386.08,375.92 385.85,376.09 385.62,376.26 385.39,376.43 385.17,376.6 384.94,376.76 384.71,376.93 384.48,377.1 384.25,377.26 384.02,377.43 383.79,377.59 383.57,377.75 383.34,377.9 383.11,378.06 382.88,378.21 382.65,378.36 382.42,378.51 382.19,378.65 381.96,378.79 381.74,378.93 381.51,379.06 381.28,379.19 381.05,379.32 380.82,379.44 380.59,379.56 380.36,379.67 380.14,379.78 379.91,379.88 379.68,379.98 379.45,380.08 379.22,380.17 378.99,380.25 378.76,380.34 378.53,380.41 378.31,380.48 378.08,380.55 377.85,380.61 377.62,380.67 377.39,380.73 377.16,380.77 376.93,380.82 376.71,380.86 376.48,380.9 376.25,380.93 376.02,380.95 375.79,380.98 375.56,381 375.33,381.02 375.1,381.03 374.88,381.04 374.65,381.05 374.42,381.05 374.19,381.05 374.1,381.05 374.02,381.05 373.93,381.05 373.85,381.05 373.76,381.05 373.68,381.05 373.59,381.05 373.5,381.05 373.42,381.04 373.33,381.04 373.25,381.04 373.16,381.04 373.08,381.04 372.99,381.03 372.9,381.03 372.82,381.03 372.73,381.02 372.65,381.02 372.56,381.02 372.47,381.02 372.39,381.01 372.3,381.01 372.22,381.01 372.13,381.01 372.05,381 371.96,381 371.87,381 371.79,381 371.7,380.99 371.62,380.99 371.53,380.99 371.45,380.99 371.36,380.99 371.27,380.99 371.19,380.99 371.1,380.99 371.02,380.99 370.93,380.99 370.85,380.99 370.76,380.99 370.67,380.99 370.59,380.99 370.5,381 370.42,381 370.33,381 370.25,381.01 370.16,381.01 370.07,381.02 369.99,381.03 369.9,381.03 369.82,381.04 369.73,381.05 369.65,381.06 369.56,381.07 369.47,381.08 369.39,381.09 369.3,381.11 369.22,381.12 369.13,381.14 369.04,381.15 368.96,381.17 368.87,381.19 368.79,381.21 368.7,381.23 368.62,381.25 368.53,381.28 368.44,381.37 368.36,381.52 368.27,381.66 368.19,381.81 368.1,381.96 368.02,382.11 367.93,382.26 367.84,382.42 367.76,382.57 367.67,382.73 367.59,382.89 367.5,383.06 367.42,383.22 367.33,383.39 367.24,383.56 367.16,383.74 367.07,383.91 366.99,384.1 366.9,384.28 366.82,384.47 366.73,384.67 366.64,384.87 366.56,385.07 366.47,385.28 366.39,385.5 366.3,385.73 366.22,385.96 366.13,386.21 366.04,386.47 365.96,386.73 365.87,387.01 365.79,387.31 365.7,387.62 365.61,387.96 365.53,388.31 365.44,388.69 365.36,389.1 365.27,389.53 365.19,390 365.1,390.51 365.01,391.06 364.93,391.67 364.84,392.33 364.76,393.05 364.67,393.84 364.59,394.72 364.5,395.68 364.41,396.75 364.33,397.94 364.24,399.25 364.16,400.72 364.07,402.36 363.99,404.19 363.9,406.23"/>
<polygon fill="#fff" opacity="0.07" points="365.96,307.16 366.38,308.72 366.8,309.96 367.22,311.01 367.64,311.94 368.06,312.8 368.48,313.6 368.9,313.79 369.32,313.93 369.74,314.03 370.16,314.12 370.58,314.18 371,314.23 371.43,314.27 371.85,314.3 372.27,314.32 372.69,314.34 373.11,314.36 373.53,314.37 373.95,314.39 374.37,314.42 374.79,314.45 375.21,314.49 375.63,314.54 376.05,314.6 376.47,314.67 376.89,314.76 377.31,314.85 377.73,314.97 378.15,315.09 378.57,315.24 379,315.39 379.42,315.57 379.84,315.75 380.26,315.96 380.68,316.17 381.1,316.4 381.52,316.64 381.94,316.9 382.36,317.17 382.78,317.44 383.2,317.73 383.62,318.02 384.04,318.32 384.46,318.63 384.88,318.94 385.3,319.25 385.72,319.57 386.15,319.88 386.57,319.64 386.99,319.37 387.41,319.11 387.83,318.85 388.25,318.59 388.67,318.34 389.09,318.1 389.51,317.87 389.93,317.65 390.35,317.44 390.77,317.25 391.19,317.07 391.61,316.91 392.03,316.76 392.45,316.64 392.87,316.53 393.29,316.44 393.72,316.37 394.14,316.32 394.56,316.3 394.98,316.29 395.4,316.31 395.82,316.34 396.24,316.4 396.66,316.48 397.08,316.58 397.5,316.7 397.92,316.83 398.34,316.99 398.76,317.17 399.18,317.36 399.6,317.56 400.02,317.78 400.44,318.02 400.86,318.27 401.29,318.52 401.71,318.79 402.13,319.06 402.55,319.35 402.97,319.63 403.39,319.92 403.81,320.21 404.23,319.95 404.65,319.66 405.07,319.38 405.49,319.1 405.91,318.82 406.33,318.56 406.75,318.3 407.17,318.06 407.59,317.83 408.01,317.61 408.43,317.4 408.86,317.21 409.28,317.04 409.7,316.89 410.12,316.75 410.54,316.64 410.96,316.54 411.38,316.46 411.8,316.41 412.22,316.38 412.64,316.37 413.06,316.38 413.48,316.41 413.9,316.46 414.32,316.54 414.74,316.63 415.16,316.75 415.58,316.88 416,317.03 416.43,317.21 416.85,317.39 417.27,317.6 417.69,317.82 418.11,318.05 418.53,318.29 418.95,318.55 419.37,318.81 419.79,319.09 420.21,319.37 420.63,319.65 421.05,319.94 421.47,320.23 421.89,319.96 422.31,319.67 422.73,319.39 423.15,319.11 423.58,318.84 424,318.57 424.42,318.32 424.84,318.07 425.26,317.84 425.68,317.62 426.1,317.41 426.52,317.22 426.94,317.05 427.36,316.89 427.78,316.76 428.2,316.64 428.62,316.55 429.04,316.47 429.46,316.42 429.88,316.38 430.3,316.37 430.72,316.38 431.15,316.41 431.57,316.46 431.99,316.54 432.41,316.63 432.83,316.75 433.25,316.88 433.67,317.04 434.09,317.21 434.51,317.4 434.93,317.6 435.35,317.82 435.77,318.05 436.19,318.29 436.61,318.55 437.03,318.82 437.45,319.09 437.87,319.37 438.29,319.65 438.72,319.94 439.14,320.23 439.56,319.96 439.98,319.68 440.4,319.39 440.82,319.11 441.24,318.84 441.66,318.57 442.08,318.32 442.5,318.07 442.92,317.84 443.34,317.62 443.76,317.41 444.18,317.22 444.6,317.05 445.02,316.9 445.44,316.76 445.86,316.64 446.29,316.55 446.71,316.47 447.13,316.42 447.55,316.38 447.97,316.37 448.39,316.38 448.81,316.41 449.23,316.46 449.65,316.54 449.65,329.52 449.23,330.17 448.81,330.82 448.39,331.49 447.97,332.1 447.55,331.43 447.13,330.76 446.71,330.11 446.29,329.47 445.86,328.83 445.44,328.21 445.02,327.61 444.6,327.01 444.18,326.43 443.76,325.86 443.34,325.3 442.92,324.76 442.5,324.24 442.08,323.72 441.66,323.23 441.24,322.75 440.82,322.28 440.4,321.83 439.98,321.4 439.56,320.98 439.14,320.61 438.72,321.01 438.29,321.43 437.87,321.87 437.45,322.32 437.03,322.79 436.61,323.27 436.19,323.77 435.77,324.28 435.35,324.81 434.93,325.35 434.51,325.91 434.09,326.48 433.67,327.06 433.25,327.66 432.83,328.27 432.41,328.89 431.99,329.52 431.57,330.17 431.15,330.82 430.72,331.49 430.3,332.11 429.88,331.43 429.46,330.77 429.04,330.11 428.62,329.47 428.2,328.84 427.78,328.22 427.36,327.61 426.94,327.01 426.52,326.43 426.1,325.86 425.68,325.31 425.26,324.76 424.84,324.24 424.42,323.73 424,323.23 423.58,322.75 423.15,322.28 422.73,321.83 422.31,321.4 421.89,320.98 421.47,320.61 421.05,321.01 420.63,321.43 420.21,321.87 419.79,322.32 419.37,322.79 418.95,323.27 418.53,323.77 418.11,324.28 417.69,324.81 417.27,325.35 416.85,325.91 416.43,326.48 416,327.06 415.58,327.66 415.16,328.27 414.74,328.89 414.32,329.52 413.9,330.17 413.48,330.82 413.06,331.49 412.64,332.11 412.22,331.43 411.8,330.77 411.38,330.11 410.96,329.47 410.54,328.84 410.12,328.22 409.7,327.61 409.28,327.01 408.86,326.43 408.43,325.86 408.01,325.31 407.59,324.77 407.17,324.24 406.75,323.73 406.33,323.23 405.91,322.75 405.49,322.28 405.07,321.83 404.65,321.4 404.23,320.98 403.81,320.61 403.39,321.01 402.97,321.43 402.55,321.87 402.13,322.32 401.71,322.79 401.29,323.27 400.86,323.77 400.44,324.28 400.02,324.81 399.6,325.35 399.18,325.91 398.76,326.48 398.34,327.06 397.92,327.66 397.5,328.27 397.08,328.89 396.66,329.52 396.24,330.16 395.82,330.82 395.4,331.49 394.98,332.11 394.56,331.43 394.14,330.77 393.72,330.11 393.29,329.47 392.87,328.84 392.45,328.22 392.03,327.61 391.61,327.01 391.19,326.43 390.77,325.86 390.35,325.31 389.93,324.77 389.51,324.24 389.09,323.73 388.67,323.23 388.25,322.75 387.83,322.28 387.41,321.83 386.99,321.4 386.57,320.98 386.15,320.61 385.72,321.01 385.3,321.43 384.88,321.87 384.46,322.32 384.04,322.78 383.62,323.27 383.2,323.77 382.78,324.28 382.36,324.81 381.94,325.35 381.52,325.91 381.1,326.48 380.68,327.06 380.26,327.66 379.84,328.26 379.42,328.89 379,329.52 378.57,330.16 378.15,330.82 377.73,331.48 377.31,332.11 376.89,331.44 376.47,330.77 376.05,330.12 375.63,329.47 375.21,328.84 374.79,328.22 374.37,327.61 373.95,327.02 373.53,326.43 373.11,325.86 372.69,325.31 372.27,324.77 371.85,324.24 371.43,323.73 371,323.23 370.58,322.75 370.16,322.28 369.74,321.83 369.32,321.4 368.9,320.98 368.48,320.61 368.06,321.01 367.64,321.43 367.22,321.86 366.8,322.32 366.38,322.78 365.96,323.27"/>
<polygon fill="#fff" opacity="0.07" points="365.96,307.16 366.38,308.72 366.8,309.96 367.22,311.01 367.64,311.94 368.06,312.8 368.48,313.6 368.9,313.79 369.32,313.93 369.74,314.03 370.16,314.12 370.58,314.18 371,314.23 371.43,314.27 371.85,314.3 372.27,314.32 372.69,314.34 373.11,314.36 373.53,314.37 373.95,314.39 374.37,314.42 374.79,314.45 375.21,314.49 375.63,314.54 376.05,314.6 376.47,314.67 376.89,314.76 377.31,314.85 377.73,314.97 378.15,315.09 378.57,315.24 379,315.39 379.42,315.57 379.84,315.75 380.26,315.96 380.68,316.17 381.1,316.4 381.52,316.64 381.94,316.9 382.36,317.17 382.78,317.44 383.2,317.73 383.62,318.02 384.04,318.32 384.46,318.63 384.88,318.94 385.3,319.25 385.72,319.57 386.15,319.88 386.57,319.64 386.99,319.37 387.41,319.11 387.83,318.85 388.25,318.59 388.67,318.34 389.09,318.1 389.51,317.87 389.93,317.65 390.35,317.44 390.77,317.25 391.19,317.07 391.61,316.91 392.03,316.76 392.45,316.64 392.87,316.53 393.29,316.44 393.72,316.37 394.14,316.32 394.56,316.3 394.98,316.29 395.4,316.31 395.82,316.34 396.24,316.4 396.66,316.48 397.08,316.58 397.5,316.7 397.92,316.83 398.34,316.99 398.76,317.17 399.18,317.36 399.6,317.56 400.02,317.78 400.44,318.02 400.86,318.27 401.29,318.52 401.71,318.79 402.13,319.06 402.55,319.35 402.97,319.63 403.39,319.92 403.81,320.21 404.23,319.95 404.65,319.66 405.07,319.38 405.49,319.1 405.91,318.82 406.33,318.56 406.75,318.3 407.17,318.06 407.59,317.83 408.01,317.61 408.43,317.4 408.86,317.21 409.28,317.04 409.7,316.89 410.12,316.75 410.54,316.64 410.96,316.54 411.38,316.46 411.8,316.41 412.22,316.38 412.64,316.37 413.06,316.38 413.48,316.41 413.9,316.46 414.32,316.54 414.74,316.63 415.16,316.75 415.58,316.88 416,317.03 416.43,317.21 416.85,317.39 417.27,317.6 417.69,317.82 418.11,318.05 418.53,318.29 418.95,318.55 419.37,318.81 419.79,319.09 420.21,319.37 420.63,319.65 421.05,319.94 421.47,320.23 421.89,319.96 422.31,319.67 422.73,319.39 423.15,319.11 423.58,318.84 424,318.57 424.42,318.32 424.84,318.07 425.26,317.84 425.68,317.62 426.1,317.41 426.52,317.22 426.94,317.05 427.36,316.89 427.78,316.76 428.2,316.64 428.62,316.55 429.04,316.47 429.46,316.42 429.88,316.38 430.3,316.37 430.72,316.38 431.15,316.41 431.57,316.46 431.99,316.54 432.41,316.63 432.83,316.75 433.25,316.88 433.67,317.04 434.09,317.21 434.51,317.4 434.93,317.6 435.35,317.82 435.77,318.05 436.19,318.29 436.61,318.55 437.03,318.82 437.45,319.09 437.87,319.37 438.29,319.65 438.72,319.94 439.14,320.23 439.56,319.96 439.98,319.68 440.4,319.39 440.82,319.11 441.24,318.84 441.66,318.57 442.08,318.32 442.5,318.07 442.92,317.84 443.34,317.62 443.76,317.41 444.18,317.22 444.6,317.05 445.02,316.9 445.44,316.76 445.86,316.64 446.29,316.55 446.71,316.47 447.13,316.42 447.55,316.38 447.97,316.37 448.39,316.38 448.81,316.41 449.23,316.46 449.65,316.54 449.65,323.03 449.23,323.32 448.81,323.62 448.39,323.93 447.97,324.24 447.55,323.91 447.13,323.59 446.71,323.29 446.29,323.01 445.86,322.74 445.44,322.49 445.02,322.25 444.6,322.03 444.18,321.83 443.76,321.64 443.34,321.46 442.92,321.3 442.5,321.15 442.08,321.02 441.66,320.9 441.24,320.79 440.82,320.7 440.4,320.61 439.98,320.54 439.56,320.47 439.14,320.42 438.72,320.48 438.29,320.54 437.87,320.62 437.45,320.7 437.03,320.8 436.61,320.91 436.19,321.03 435.77,321.17 435.35,321.31 434.93,321.48 434.51,321.65 434.09,321.84 433.67,322.05 433.25,322.27 432.83,322.51 432.41,322.76 431.99,323.03 431.57,323.32 431.15,323.62 430.72,323.93 430.3,324.24 429.88,323.91 429.46,323.59 429.04,323.29 428.62,323.01 428.2,322.74 427.78,322.49 427.36,322.25 426.94,322.03 426.52,321.83 426.1,321.64 425.68,321.46 425.26,321.3 424.84,321.15 424.42,321.02 424,320.9 423.58,320.79 423.15,320.7 422.73,320.61 422.31,320.54 421.89,320.47 421.47,320.42 421.05,320.48 420.63,320.54 420.21,320.62 419.79,320.7 419.37,320.8 418.95,320.91 418.53,321.03 418.11,321.17 417.69,321.31 417.27,321.47 416.85,321.65 416.43,321.84 416,322.05 415.58,322.27 415.16,322.51 414.74,322.76 414.32,323.03 413.9,323.31 413.48,323.61 413.06,323.93 412.64,324.24 412.22,323.9 411.8,323.59 411.38,323.29 410.96,323 410.54,322.74 410.12,322.48 409.7,322.25 409.28,322.03 408.86,321.82 408.43,321.63 408.01,321.46 407.59,321.3 407.17,321.15 406.75,321.02 406.33,320.89 405.91,320.79 405.49,320.69 405.07,320.6 404.65,320.53 404.23,320.46 403.81,320.41 403.39,320.47 402.97,320.53 402.55,320.61 402.13,320.69 401.71,320.79 401.29,320.9 400.86,321.02 400.44,321.15 400.02,321.3 399.6,321.46 399.18,321.63 398.76,321.82 398.34,322.03 397.92,322.25 397.5,322.48 397.08,322.73 396.66,323 396.24,323.28 395.82,323.58 395.4,323.9 394.98,324.2 394.56,323.87 394.14,323.55 393.72,323.24 393.29,322.96 392.87,322.68 392.45,322.43 392.03,322.19 391.61,321.96 391.19,321.75 390.77,321.56 390.35,321.38 389.93,321.21 389.51,321.06 389.09,320.91 388.67,320.79 388.25,320.67 387.83,320.57 387.41,320.47 386.99,320.39 386.57,320.31 386.15,320.25 385.72,320.29 385.3,320.34 384.88,320.4 384.46,320.47 384.04,320.55 383.62,320.64 383.2,320.75 382.78,320.86 382.36,320.99 381.94,321.12 381.52,321.27 381.1,321.44 380.68,321.62 380.26,321.81 379.84,322.01 379.42,322.23 379,322.46 378.57,322.7 378.15,322.96 377.73,323.23 377.31,323.48 376.89,323.1 376.47,322.72 376.05,322.36 375.63,322.01 375.21,321.67 374.79,321.34 374.37,321.02 373.95,320.71 373.53,320.4 373.11,320.11 372.69,319.82 372.27,319.55 371.85,319.27 371.43,319 371,318.73 370.58,318.47 370.16,318.2 369.74,317.93 369.32,317.66 368.9,317.39 368.48,317.1 368.06,316.9 367.64,316.69 367.22,316.44 366.8,316.14 366.38,315.75 365.96,315.21"/>
<polygon fill="#fff" opacity="0.07" points="365.96,386.73 366.38,385.52 366.8,384.51 367.22,383.61 367.64,382.79 368.06,382.03 368.48,381.31 368.9,381.18 369.32,381.1 369.74,381.05 370.16,381.01 370.58,380.99 371,380.99 371.43,380.99 371.85,381 372.27,381.01 372.69,381.02 373.11,381.04 373.53,381.05 373.95,381.05 374.37,381.05 374.79,381.04 375.21,381.02 375.63,380.99 376.05,380.95 376.47,380.9 376.89,380.83 377.31,380.74 377.73,380.64 378.15,380.53 378.57,380.4 379,380.25 379.42,380.09 379.84,379.91 380.26,379.72 380.68,379.51 381.1,379.29 381.52,379.06 381.94,378.81 382.36,378.55 382.78,378.28 383.2,378 383.62,377.71 384.04,377.41 384.46,377.11 384.88,376.8 385.3,376.49 385.72,376.18 386.15,375.87 386.57,376.12 386.99,376.39 387.41,376.65 387.83,376.92 388.25,377.18 388.67,377.43 389.09,377.67 389.51,377.9 389.93,378.12 390.35,378.33 390.77,378.53 391.19,378.71 391.61,378.87 392.03,379.02 392.45,379.15 392.87,379.26 393.29,379.35 393.72,379.42 394.14,379.46 394.56,379.49 394.98,379.5 395.4,379.48 395.82,379.45 396.24,379.39 396.66,379.31 397.08,379.21 397.5,379.1 397.92,378.96 398.34,378.8 398.76,378.63 399.18,378.44 399.6,378.23 400.02,378.01 400.44,377.78 400.86,377.53 401.29,377.27 401.71,377.01 402.13,376.73 402.55,376.45 402.97,376.17 403.39,375.88 403.81,375.59 404.23,375.85 404.65,376.14 405.07,376.42 405.49,376.7 405.91,376.97 406.33,377.24 406.75,377.49 407.17,377.74 407.59,377.97 408.01,378.19 408.43,378.4 408.86,378.58 409.28,378.76 409.7,378.91 410.12,379.05 410.54,379.16 410.96,379.26 411.38,379.33 411.8,379.39 412.22,379.42 412.64,379.43 413.06,379.42 413.48,379.39 413.9,379.34 414.32,379.26 414.74,379.17 415.16,379.05 415.58,378.92 416,378.77 416.43,378.59 416.85,378.41 417.27,378.2 417.69,377.98 418.11,377.75 418.53,377.51 418.95,377.25 419.37,376.99 419.79,376.71 420.21,376.43 420.63,376.15 421.05,375.86 421.47,375.57 421.89,375.84 422.31,376.12 422.73,376.41 423.15,376.69 423.58,376.96 424,377.23 424.42,377.48 424.84,377.73 425.26,377.96 425.68,378.18 426.1,378.39 426.52,378.58 426.94,378.75 427.36,378.91 427.78,379.04 428.2,379.16 428.62,379.25 429.04,379.33 429.46,379.38 429.88,379.42 430.3,379.43 430.72,379.42 431.15,379.39 431.57,379.34 431.99,379.26 432.41,379.17 432.83,379.05 433.25,378.92 433.67,378.76 434.09,378.59 434.51,378.4 434.93,378.2 435.35,377.98 435.77,377.75 436.19,377.51 436.61,377.25 437.03,376.98 437.45,376.71 437.87,376.43 438.29,376.15 438.72,375.86 439.14,375.57 439.56,375.84 439.98,376.12 440.4,376.41 440.82,376.69 441.24,376.96 441.66,377.23 442.08,377.48 442.5,377.73 442.92,377.96 443.34,378.18 443.76,378.39 444.18,378.58 444.6,378.75 445.02,378.9 445.44,379.04 445.86,379.16 446.29,379.25 446.71,379.33 447.13,379.38 447.55,379.42 447.97,379.43 448.39,379.42 448.81,379.39 449.23,379.34 449.65,379.26 449.65,366.28 449.23,365.63 448.81,364.98 448.39,364.31 447.97,363.7 447.55,364.37 447.13,365.04 446.71,365.69 446.29,366.33 445.86,366.97 445.44,367.59 445.02,368.19 444.6,368.79 444.18,369.37 443.76,369.94 443.34,370.5 442.92,371.04 442.5,371.56 442.08,372.08 441.66,372.57 441.24,373.05 440.82,373.52 440.4,373.97 439.98,374.4 439.56,374.82 439.14,375.19 438.72,374.79 438.29,374.37 437.87,373.93 437.45,373.48 437.03,373.01 436.61,372.53 436.19,372.03 435.77,371.52 435.35,370.99 434.93,370.45 434.51,369.89 434.09,369.32 433.67,368.74 433.25,368.14 432.83,367.53 432.41,366.91 431.99,366.28 431.57,365.63 431.15,364.98 430.72,364.31 430.3,363.69 429.88,364.37 429.46,365.03 429.04,365.69 428.62,366.33 428.2,366.96 427.78,367.58 427.36,368.19 426.94,368.79 426.52,369.37 426.1,369.94 425.68,370.49 425.26,371.04 424.84,371.56 424.42,372.07 424,372.57 423.58,373.05 423.15,373.52 422.73,373.97 422.31,374.4 421.89,374.82 421.47,375.19 421.05,374.79 420.63,374.37 420.21,373.93 419.79,373.48 419.37,373.01 418.95,372.53 418.53,372.03 418.11,371.52 417.69,370.99 417.27,370.45 416.85,369.89 416.43,369.32 416,368.74 415.58,368.14 415.16,367.53 414.74,366.91 414.32,366.28 413.9,365.63 413.48,364.98 413.06,364.31 412.64,363.69 412.22,364.37 411.8,365.03 411.38,365.69 410.96,366.33 410.54,366.96 410.12,367.58 409.7,368.19 409.28,368.79 408.86,369.37 408.43,369.94 408.01,370.49 407.59,371.03 407.17,371.56 406.75,372.07 406.33,372.57 405.91,373.05 405.49,373.52 405.07,373.97 404.65,374.4 404.23,374.82 403.81,375.19 403.39,374.79 402.97,374.37 402.55,373.93 402.13,373.48 401.71,373.01 401.29,372.53 400.86,372.03 400.44,371.52 400.02,370.99 399.6,370.45 399.18,369.89 398.76,369.32 398.34,368.74 397.92,368.14 397.5,367.53 397.08,366.91 396.66,366.28 396.24,365.64 395.82,364.98 395.4,364.31 394.98,363.69 394.56,364.37 394.14,365.03 393.72,365.69 393.29,366.33 392.87,366.96 392.45,367.58 392.03,368.19 391.61,368.79 391.19,369.37 390.77,369.94 390.35,370.49 389.93,371.03 389.51,371.56 389.09,372.07 388.67,372.57 388.25,373.05 387.83,373.52 387.41,373.97 386.99,374.4 386.57,374.82 386.15,375.19 385.72,374.79 385.3,374.37 384.88,373.93 384.46,373.48 384.04,373.02 383.62,372.53 383.2,372.03 382.78,371.52 382.36,370.99 381.94,370.45 381.52,369.89 381.1,369.32 380.68,368.74 380.26,368.14 379.84,367.54 379.42,366.91 379,366.28 378.57,365.64 378.15,364.98 377.73,364.32 377.31,363.69 376.89,364.36 376.47,365.03 376.05,365.68 375.63,366.33 375.21,366.96 374.79,367.58 374.37,368.19 373.95,368.78 373.53,369.37 373.11,369.94 372.69,370.49 372.27,371.03 371.85,371.56 371.43,372.07 371,372.57 370.58,373.05 370.16,373.52 369.74,373.97 369.32,374.4 368.9,374.82 368.48,375.19 368.06,374.79 367.64,374.37 367.22,373.94 366.8,373.48 366.38,373.02 365.96,372.53"/>
<polygon fill="#fff" opacity="0.07" points="365.96,386.73 366.38,385.52 366.8,384.51 367.22,383.61 367.64,382.79 368.06,382.03 368.48,381.31 368.9,381.18 369.32,381.1 369.74,381.05 370.16,381.01 370.58,380.99 371,380.99 371.43,380.99 371.85,381 372.27,381.01 372.69,381.02 373.11,381.04 373.53,381.05 373.95,381.05 374.37,381.05 374.79,381.04 375.21,381.02 375.63,380.99 376.05,380.95 376.47,380.9 376.89,380.83 377.31,380.74 377.73,380.64 378.15,380.53 378.57,380.4 379,380.25 379.42,380.09 379.84,379.91 380.26,379.72 380.68,379.51 381.1,379.29 381.52,379.06 381.94,378.81 382.36,378.55 382.78,378.28 383.2,378 383.62,377.71 384.04,377.41 384.46,377.11 384.88,376.8 385.3,376.49 385.72,376.18 386.15,375.87 386.57,376.12 386.99,376.39 387.41,376.65 387.83,376.92 388.25,377.18 388.67,377.43 389.09,377.67 389.51,377.9 389.93,378.12 390.35,378.33 390.77,378.53 391.19,378.71 391.61,378.87 392.03,379.02 392.45,379.15 392.87,379.26 393.29,379.35 393.72,379.42 394.14,379.46 394.56,379.49 394.98,379.5 395.4,379.48 395.82,379.45 396.24,379.39 396.66,379.31 397.08,379.21 397.5,379.1 397.92,378.96 398.34,378.8 398.76,378.63 399.18,378.44 399.6,378.23 400.02,378.01 400.44,377.78 400.86,377.53 401.29,377.27 401.71,377.01 402.13,376.73 402.55,376.45 402.97,376.17 403.39,375.88 403.81,375.59 404.23,375.85 404.65,376.14 405.07,376.42 405.49,376.7 405.91,376.97 406.33,377.24 406.75,377.49 407.17,377.74 407.59,377.97 408.01,378.19 408.43,378.4 408.86,378.58 409.28,378.76 409.7,378.91 410.12,379.05 410.54,379.16 410.96,379.26 411.38,379.33 411.8,379.39 412.22,379.42 412.64,379.43 413.06,379.42 413.48,379.39 413.9,379.34 414.32,379.26 414.74,379.17 415.16,379.05 415.58,378.92 416,378.77 416.43,378.59 416.85,378.41 417.27,378.2 417.69,377.98 418.11,377.75 418.53,377.51 418.95,377.25 419.37,376.99 419.79,376.71 420.21,376.43 420.63,376.15 421.05,375.86 421.47,375.57 421.89,375.84 422.31,376.12 422.73,376.41 423.15,376.69 423.58,376.96 424,377.23 424.42,377.48 424.84,377.73 425.26,377.96 425.68,378.18 426.1,378.39 426.52,378.58 426.94,378.75 427.36,378.91 427.78,379.04 428.2,379.16 428.62,379.25 429.04,379.33 429.46,379.38 429.88,379.42 430.3,379.43 430.72,379.42 431.15,379.39 431.57,379.34 431.99,379.26 432.41,379.17 432.83,379.05 433.25,378.92 433.67,378.76 434.09,378.59 434.51,378.4 434.93,378.2 435.35,377.98 435.77,377.75 436.19,377.51 436.61,377.25 437.03,376.98 437.45,376.71 437.87,376.43 438.29,376.15 438.72,375.86 439.14,375.57 439.56,375.84 439.98,376.12 440.4,376.41 440.82,376.69 441.24,376.96 441.66,377.23 442.08,377.48 442.5,377.73 442.92,377.96 443.34,378.18 443.76,378.39 444.18,378.58 444.6,378.75 445.02,378.9 445.44,379.04 445.86,379.16 446.29,379.25 446.71,379.33 447.13,379.38 447.55,379.42 447.97,379.43 448.39,379.42 448.81,379.39 449.23,379.34 449.65,379.26 449.65,372.77 449.23,372.48 448.81,372.18 448.39,371.87 447.97,371.56 447.55,371.89 447.13,372.21 446.71,372.51 446.29,372.79 445.86,373.06 445.44,373.31 445.02,373.55 444.6,373.77 444.18,373.97 443.76,374.16 443.34,374.34 442.92,374.5 442.5,374.65 442.08,374.78 441.66,374.9 441.24,375.01 440.82,375.1 440.4,375.19 439.98,375.26 439.56,375.33 439.14,375.38 438.72,375.32 438.29,375.26 437.87,375.18 437.45,375.1 437.03,375 436.61,374.89 436.19,374.77 435.77,374.63 435.35,374.49 434.93,374.32 434.51,374.15 434.09,373.96 433.67,373.75 433.25,373.53 432.83,373.29 432.41,373.04 431.99,372.77 431.57,372.48 431.15,372.18 430.72,371.87 430.3,371.56 429.88,371.89 429.46,372.21 429.04,372.51 428.62,372.79 428.2,373.06 427.78,373.31 427.36,373.55 426.94,373.77 426.52,373.97 426.1,374.16 425.68,374.34 425.26,374.5 424.84,374.65 424.42,374.78 424,374.9 423.58,375.01 423.15,375.1 422.73,375.19 422.31,375.26 421.89,375.33 421.47,375.38 421.05,375.32 420.63,375.26 420.21,375.18 419.79,375.1 419.37,375 418.95,374.89 418.53,374.77 418.11,374.63 417.69,374.49 417.27,374.33 416.85,374.15 416.43,373.96 416,373.75 415.58,373.53 415.16,373.29 414.74,373.04 414.32,372.77 413.9,372.49 413.48,372.19 413.06,371.87 412.64,371.56 412.22,371.89 411.8,372.21 411.38,372.51 410.96,372.79 410.54,373.06 410.12,373.31 409.7,373.55 409.28,373.77 408.86,373.98 408.43,374.17 408.01,374.34 407.59,374.5 407.17,374.65 406.75,374.78 406.33,374.9 405.91,375.01 405.49,375.11 405.07,375.2 404.65,375.27 404.23,375.34 403.81,375.39 403.39,375.33 402.97,375.27 402.55,375.19 402.13,375.11 401.71,375.01 401.29,374.9 400.86,374.78 400.44,374.65 400.02,374.5 399.6,374.34 399.18,374.17 398.76,373.98 398.34,373.77 397.92,373.55 397.5,373.32 397.08,373.06 396.66,372.8 396.24,372.51 395.82,372.21 395.4,371.9 394.98,371.59 394.56,371.93 394.14,372.25 393.72,372.55 393.29,372.84 392.87,373.11 392.45,373.36 392.03,373.6 391.61,373.83 391.19,374.04 390.77,374.23 390.35,374.41 389.93,374.58 389.51,374.73 389.09,374.87 388.67,375 388.25,375.11 387.83,375.22 387.41,375.31 386.99,375.39 386.57,375.47 386.15,375.53 385.72,375.49 385.3,375.43 384.88,375.37 384.46,375.3 384.04,375.21 383.62,375.12 383.2,375.02 382.78,374.9 382.36,374.77 381.94,374.63 381.52,374.47 381.1,374.31 380.68,374.13 380.26,373.93 379.84,373.72 379.42,373.5 379,373.27 378.57,373.02 378.15,372.76 377.73,372.48 377.31,372.22 376.89,372.6 376.47,372.96 376.05,373.32 375.63,373.66 375.21,373.99 374.79,374.31 374.37,374.62 373.95,374.92 373.53,375.21 373.11,375.49 372.69,375.76 372.27,376.02 371.85,376.28 371.43,376.53 371,376.78 370.58,377.02 370.16,377.27 369.74,377.51 369.32,377.75 368.9,378 368.48,378.25 368.06,378.41 367.64,378.58 367.22,378.77 366.8,379 366.38,379.27 365.96,379.63"/>
<rect x="364.97" y="304.82" width="1.06" height="21.86" fill="#fff" opacity="0.12"/><rect x="364.97" y="370.05" width="1.06" height="18.39" fill="#fff" opacity="0.1"/><rect x="367.45" y="312.5" width="0.93" height="6.59" fill="#fff" opacity="0.21"/><rect x="367.45" y="376.44" width="0.93" height="5.85" fill="#fff" opacity="0.19"/><rect x="369.38" y="314.08" width="1.11" height="6.6" fill="#fff" opacity="0.29"/><rect x="369.38" y="371.08" width="1.11" height="9.95" fill="#fff" opacity="0.14"/><rect x="372.57" y="314.36" width="1.19" height="17.06" fill="#fff" opacity="0.18"/><rect x="372.57" y="365.33" width="1.19" height="15.71" fill="#fff" opacity="0.09"/><rect x="374.99" y="314.52" width="0.97" height="14.83" fill="#fff" opacity="0.11"/><rect x="374.99" y="367.48" width="0.97" height="13.53" fill="#fff" opacity="0.29"/><rect x="377.58" y="315.1" width="1.22" height="17.7" fill="#fff" opacity="0.18"/><rect x="377.58" y="366.91" width="1.22" height="13.61" fill="#fff" opacity="0.1"/><rect x="379.75" y="316.01" width="1.24" height="11.64" fill="#fff" opacity="0.19"/><rect x="379.75" y="367.04" width="1.24" height="12.63" fill="#fff" opacity="0.23"/><rect x="382.04" y="317.38" width="1.3" height="6.6" fill="#fff" opacity="0.26"/><rect x="382.04" y="369.56" width="1.3" height="8.77" fill="#fff" opacity="0.23"/><rect x="385.19" y="319.64" width="1.26" height="6.79" fill="#fff" opacity="0.15"/><rect x="385.19" y="373.89" width="1.26" height="2.23" fill="#fff" opacity="0.11"/><rect x="388.29" y="318.28" width="0.98" height="3.04" fill="#fff" opacity="0.21"/><rect x="388.29" y="368.67" width="0.98" height="8.83" fill="#fff" opacity="0.25"/><rect x="390.81" y="316.96" width="1.34" height="13.09" fill="#fff" opacity="0.16"/><rect x="390.81" y="366.68" width="1.34" height="12.15" fill="#fff" opacity="0.23"/><rect x="393.36" y="316.33" width="1.32" height="15.7" fill="#fff" opacity="0.33"/><rect x="393.36" y="367.09" width="1.32" height="12.37" fill="#fff" opacity="0.25"/><rect x="396.29" y="316.53" width="1.22" height="16.85" fill="#fff" opacity="0.34"/><rect x="396.29" y="365.91" width="1.22" height="13.35" fill="#fff" opacity="0.15"/><rect x="399.28" y="317.63" width="0.91" height="6.53" fill="#fff" opacity="0.2"/><rect x="399.28" y="372.51" width="0.91" height="5.65" fill="#fff" opacity="0.11"/><rect x="402.23" y="319.46" width="0.96" height="3.01" fill="#fff" opacity="0.14"/><rect x="404.65" y="319.26" width="1.17" height="6.97" fill="#fff" opacity="0.31"/><rect x="404.65" y="373.91" width="1.17" height="2.62" fill="#fff" opacity="0.3"/><rect x="407.18" y="317.76" width="1.08" height="12.5" fill="#fff" opacity="0.31"/><rect x="407.18" y="371.81" width="1.08" height="6.23" fill="#fff" opacity="0.12"/><rect x="409.44" y="316.8" width="1.02" height="13.53" fill="#fff" opacity="0.21"/><rect x="409.44" y="370.16" width="1.02" height="8.84" fill="#fff" opacity="0.15"/><rect x="411.89" y="316.37" width="1.08" height="20.69" fill="#fff" opacity="0.23"/><rect x="411.89" y="362.25" width="1.08" height="17.18" fill="#fff" opacity="0.26"/><rect x="414.58" y="316.76" width="1.24" height="16.32" fill="#fff" opacity="0.09"/><rect x="414.58" y="362.93" width="1.24" height="16.11" fill="#fff" opacity="0.28"/><rect x="417.67" y="318.11" width="1.1" height="4.51" fill="#fff" opacity="0.18"/><rect x="417.67" y="373.51" width="1.1" height="4.18" fill="#fff" opacity="0.24"/><rect x="419.71" y="319.37" width="1" height="2.87" fill="#fff" opacity="0.12"/><rect x="421.85" y="371.83" width="0.95" height="4.3" fill="#fff" opacity="0.31"/><rect x="423.92" y="318.31" width="1.03" height="6" fill="#fff" opacity="0.17"/><rect x="423.92" y="367.61" width="1.03" height="9.89" fill="#fff" opacity="0.11"/><rect x="427.15" y="316.78" width="1.13" height="9.68" fill="#fff" opacity="0.21"/><rect x="427.15" y="367.28" width="1.13" height="11.74" fill="#fff" opacity="0.11"/><rect x="429.33" y="316.38" width="1.31" height="13.05" fill="#fff" opacity="0.12"/><rect x="429.33" y="362.32" width="1.31" height="17.11" fill="#fff" opacity="0.33"/><rect x="431.51" y="316.56" width="1.17" height="14.67" fill="#fff" opacity="0.09"/><rect x="431.51" y="361.88" width="1.17" height="17.36" fill="#fff" opacity="0.33"/><rect x="434.46" y="317.62" width="1.03" height="6.66" fill="#fff" opacity="0.18"/><rect x="434.46" y="368.59" width="1.03" height="9.59" fill="#fff" opacity="0.28"/><rect x="437.43" y="319.43" width="1.06" height="6.5" fill="#fff" opacity="0.14"/><rect x="437.43" y="369.54" width="1.06" height="6.83" fill="#fff" opacity="0.34"/><rect x="440.34" y="319" width="1.31" height="2.93" fill="#fff" opacity="0.27"/><rect x="440.34" y="372.84" width="1.31" height="3.96" fill="#fff" opacity="0.21"/><rect x="442.47" y="317.83" width="0.91" height="6.66" fill="#fff" opacity="0.15"/><rect x="442.47" y="365.71" width="0.91" height="12.26" fill="#fff" opacity="0.26"/><rect x="444.77" y="316.76" width="1.37" height="16.78" fill="#fff" opacity="0.34"/><rect x="444.77" y="368.16" width="1.37" height="10.89" fill="#fff" opacity="0.17"/><rect x="447.18" y="316.38" width="1" height="17.9" fill="#fff" opacity="0.13"/><rect x="447.18" y="359.78" width="1" height="19.64" fill="#fff" opacity="0.31"/>
<path d="M364.3,407.37 L364.3,275.21" fill="none" stroke="#9900ff" stroke-width="1.4"/>
<path d="M449.65,317.22 L449.65,377.16 M449.65,347.9 L536.4,347.9" fill="none" stroke="#9900ff" stroke-width="1.4" opacity="0.8"/>
</g>
<text transform="translate(359.9,457.4) scale(0.97,1)" text-anchor="middle" style="font-size:15px">0</text>
<text transform="translate(394.2,457.4) scale(0.97,1)" text-anchor="middle" style="font-size:15px">2</text>
<text transform="translate(428.5,457.4) scale(0.97,1)" text-anchor="middle" style="font-size:15px">4</text>
<text transform="translate(462.8,457.4) scale(0.97,1)" text-anchor="middle" style="font-size:15px">6</text>
<text transform="translate(497.1,457.4) scale(0.97,1)" text-anchor="middle" style="font-size:15px">8</text>
<text transform="translate(531.4,457.4) scale(0.97,1)" text-anchor="middle" style="font-size:15px">10</text>
<text transform="translate(341.2,450.2) scale(0.97,1)" text-anchor="end" style="font-size:15px">−2</text>
<text transform="translate(341.2,403) scale(0.97,1)" text-anchor="end" style="font-size:15px">−1</text>
<text transform="translate(341.2,355.8) scale(0.97,1)" text-anchor="end" style="font-size:15px">0</text>
<text transform="translate(341.2,308.6) scale(0.97,1)" text-anchor="end" style="font-size:15px">1</text>
<text transform="translate(341.2,261.4) scale(0.97,1)" text-anchor="end" style="font-size:15px">2</text>
<text transform="translate(445.9,469.5) scale(0.958,1)" text-anchor="middle" style="font-size:15.6px">Time(s)</text>
<text transform="translate(326.3,343.3) rotate(-90)" text-anchor="middle" style="font-size:15.7px">Velocity(m/s)</text>
<text x="426.5" y="489.4" text-anchor="middle" style="font-size:14.3px">(<tspan style="font-weight:bold;font-size:15px">d</tspan>)</text>
</svg>
</body></html>
